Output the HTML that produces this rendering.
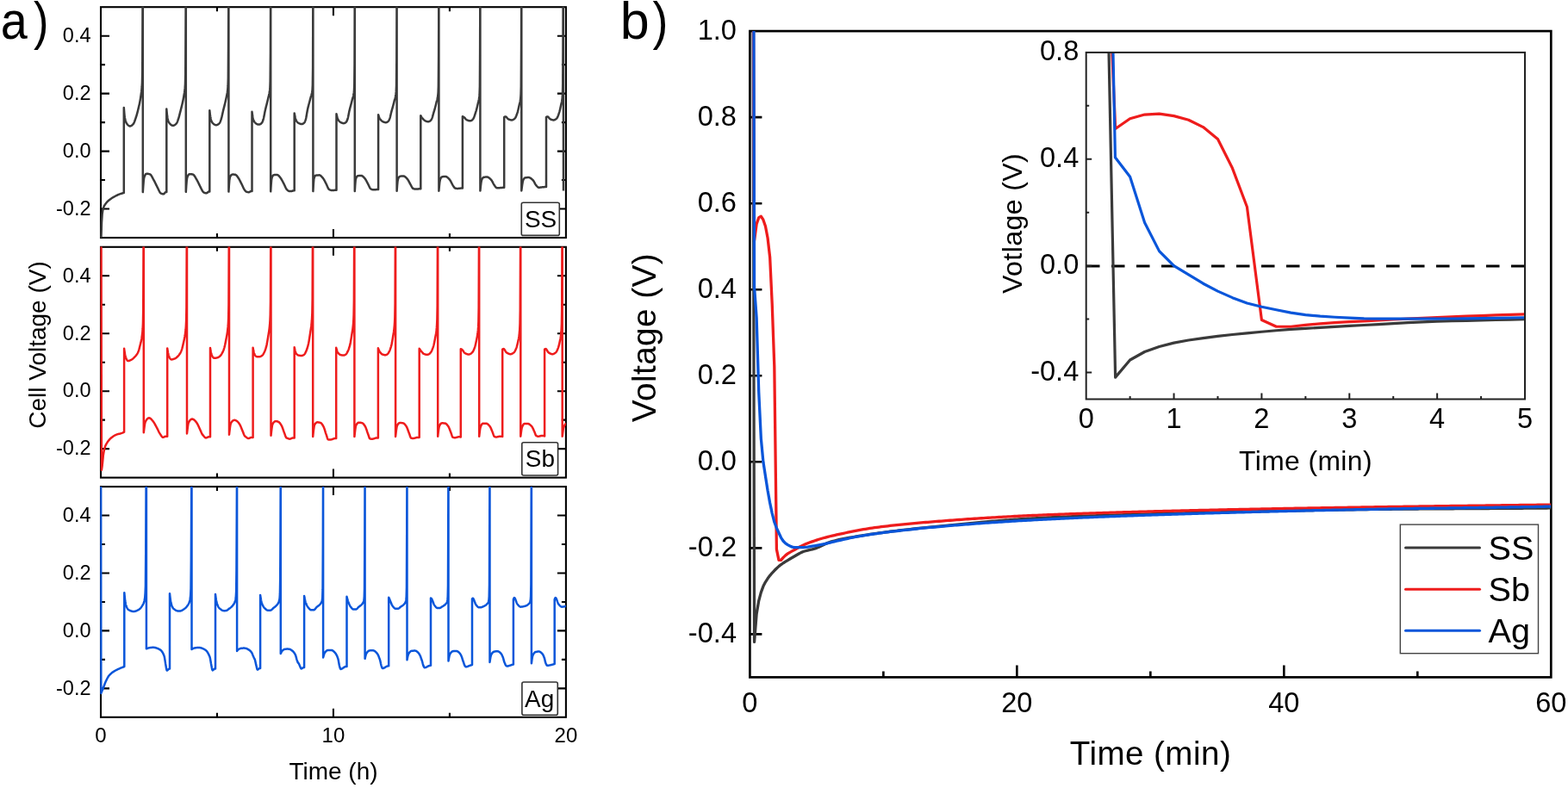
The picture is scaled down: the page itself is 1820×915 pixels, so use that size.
<!DOCTYPE html>
<html lang="en"><head><meta charset="utf-8"><title>Figure</title>
<style>
html,body{margin:0;padding:0;background:#fff;width:1820px;height:915px;overflow:hidden;}
svg{display:block;}
text{fill:#000;}
</style></head><body>
<svg width="1820" height="915" viewBox="0 0 1820 915">
<rect width="1820" height="915" fill="#fff"/>
<defs>
<clipPath id="ca0"><rect x="116.2" y="8" width="540.7" height="268"/></clipPath>
<clipPath id="ca1"><rect x="116.2" y="286.6" width="540.7" height="268"/></clipPath>
<clipPath id="ca2"><rect x="116.2" y="564.9" width="540.7" height="267.9"/></clipPath>
<clipPath id="cb"><rect x="870.4" y="36.1" width="930" height="750.3"/></clipPath>
<clipPath id="ci"><rect x="1260.7" y="60.9" width="509.3" height="402.6"/></clipPath>
</defs>
<text transform="translate(0.75 44.6) scale(0.915 1)" font-size="61" font-family='"Liberation Sans", Arial, sans-serif'>a</text>
<text transform="translate(38.9 44.6) scale(0.86 1)" font-size="61" font-family='"Liberation Sans", Arial, sans-serif'>)</text>
<g stroke="#000" stroke-width="2.1" fill="none">
<path d="M117 41.68h10 M656.9 41.68h-10 M117 108.62h10 M656.9 108.62h-10 M117 175.58h10 M656.9 175.58h-10 M117 242.53h10 M656.9 242.53h-10 M117 75.15h5 M656.9 75.15h-5 M117 142.1h5 M656.9 142.1h-5 M117 209.05h5 M656.9 209.05h-5 M386.95 8.2v10 M386.95 276v-10 M251.97 8.2v5 M251.97 276v-5 M521.92 8.2v5 M521.92 276v-5"/>
</g>
<rect x="117" y="8.2" width="539.9" height="267.8" fill="none" stroke="#000" stroke-width="2.1"/>
<path d="M117.3 280 L117.98 258.7 L118.66 248.5 L119.34 243.87 L120.02 241.35 L120.7 239.64 L121.38 238.35 L122.06 237.31 L122.74 236.39 L123.42 235.51 L124.09 234.72 L124.77 234.02 L125.45 233.37 L126.13 232.77 L126.81 232.21 L127.49 231.67 L128.17 231.17 L128.85 230.69 L129.53 230.23 L130.21 229.8 L130.89 229.38 L131.57 228.98 L132.25 228.6 L132.93 228.22 L133.61 227.85 L134.29 227.5 L134.97 227.15 L135.65 226.82 L136.33 226.5 L137.01 226.2 L137.68 225.91 L138.36 225.65 L139.04 225.4 L139.72 225.17 L140.4 224.94 L141.08 224.72 L141.76 224.52 L142.44 224.33 L143.12 224.16 L143.8 224 L143.8 125.03 L144.08 128.64 L144.35 132.01 L144.62 134.81 L144.9 136.74 L145.18 138.05 L145.45 139.21 L145.73 140.23 L146 141.11 L146.28 141.86 L146.55 142.5 L146.83 143.02 L147.1 143.44 L147.38 143.8 L147.65 144.15 L147.93 144.49 L148.2 144.8 L148.48 145.1 L148.75 145.37 L149.02 145.62 L149.3 145.84 L149.58 146.03 L149.85 146.19 L150.12 146.31 L150.4 146.4 L150.68 146.44 L150.95 146.45 L151.23 146.42 L151.5 146.36 L151.78 146.26 L152.05 146.14 L152.33 146 L152.6 145.83 L152.88 145.64 L153.15 145.43 L153.43 145.2 L153.7 144.96 L153.98 144.7 L154.25 144.44 L154.52 144.16 L154.8 143.85 L155.08 143.44 L155.35 142.94 L155.62 142.36 L155.9 141.71 L156.18 141 L156.45 140.26 L156.73 139.48 L157 138.68 L157.28 137.87 L157.55 137.06 L157.83 136.26 L158.1 135.42 L158.38 134.53 L158.65 133.61 L158.93 132.64 L159.2 131.64 L159.48 130.61 L159.75 129.54 L160.02 128.43 L160.3 127.3 L160.58 126.13 L160.85 124.97 L161.12 123.81 L161.4 122.63 L161.68 121.41 L161.95 120.14 L162.23 118.8 L162.5 117.36 L162.78 115.81 L163.05 114.13 L163.33 112.3 L163.6 110.3 L163.88 108.39 L164.15 106.5 L164.42 104.12 L164.7 100.72 L164.98 95.79 L165.25 81.74 L165.52 8.88 L165.8 -31.97 L165.8 223.11 L166.26 216.37 L166.72 210.45 L167.18 206.6 L167.63 205.16 L168.09 204.06 L168.55 203.16 L169.01 202.46 L169.47 201.98 L169.92 201.73 L170.38 201.69 L170.84 201.71 L171.3 201.75 L171.76 201.81 L172.22 201.89 L172.68 201.99 L173.13 202.1 L173.59 202.22 L174.05 202.36 L174.51 202.6 L174.97 203.02 L175.42 203.6 L175.88 204.3 L176.34 205.09 L176.8 205.94 L177.26 206.83 L177.72 207.71 L178.18 208.56 L178.63 209.37 L179.09 210.21 L179.55 211.09 L180.01 212.01 L180.47 212.95 L180.92 213.9 L181.38 214.85 L181.84 215.79 L182.3 216.7 L182.76 217.58 L183.22 218.46 L183.68 219.42 L184.13 220.41 L184.59 221.39 L185.05 222.31 L185.51 223.13 L185.97 223.8 L186.42 224.27 L186.88 224.53 L187.34 224.73 L187.8 224.91 L188.26 225.06 L188.72 225.17 L189.18 225.25 L189.63 225.28 L190.09 225.18 L190.55 224.82 L191.01 224.31 L191.47 223.77 L191.92 223.34 L192.38 223.12 L192.84 223.11 L193.3 223.11 L193.3 126.62 L193.58 129.7 L193.86 132.59 L194.14 135.04 L194.42 136.8 L194.71 138.06 L194.99 139.16 L195.27 140.09 L195.55 140.86 L195.83 141.53 L196.11 142.11 L196.39 142.59 L196.68 142.98 L196.96 143.33 L197.24 143.65 L197.52 143.96 L197.8 144.25 L198.08 144.52 L198.36 144.76 L198.64 144.98 L198.92 145.18 L199.21 145.36 L199.49 145.51 L199.77 145.63 L200.05 145.72 L200.33 145.78 L200.61 145.8 L200.89 145.8 L201.18 145.77 L201.46 145.71 L201.74 145.63 L202.02 145.52 L202.3 145.39 L202.58 145.24 L202.86 145.07 L203.14 144.87 L203.42 144.66 L203.71 144.43 L203.99 144.18 L204.27 143.93 L204.55 143.64 L204.83 143.27 L205.11 142.84 L205.39 142.33 L205.68 141.74 L205.96 141.07 L206.24 140.35 L206.52 139.58 L206.8 138.78 L207.08 137.93 L207.36 137.03 L207.64 136.07 L207.92 135.06 L208.21 133.99 L208.49 132.9 L208.77 131.78 L209.05 130.67 L209.33 129.57 L209.61 128.47 L209.89 127.36 L210.18 126.24 L210.46 125.11 L210.74 123.98 L211.02 122.85 L211.3 121.72 L211.58 120.55 L211.86 119.35 L212.14 118.08 L212.42 116.73 L212.71 115.3 L212.99 113.8 L213.27 112.22 L213.55 110.53 L213.83 108.89 L214.11 107.22 L214.39 105.11 L214.68 102.13 L214.96 97.86 L215.24 85.93 L215.52 26.3 L215.8 -31.97 L215.8 222.86 L216.26 215.78 L216.72 209.86 L217.18 206.52 L217.63 205.17 L218.09 204.16 L218.55 203.36 L219.01 202.78 L219.47 202.4 L219.92 202.19 L220.38 202.14 L220.84 202.15 L221.3 202.17 L221.76 202.21 L222.22 202.26 L222.68 202.33 L223.13 202.41 L223.59 202.52 L224.05 202.66 L224.51 202.91 L224.97 203.31 L225.42 203.85 L225.88 204.49 L226.34 205.21 L226.8 205.97 L227.26 206.76 L227.72 207.57 L228.18 208.38 L228.63 209.18 L229.09 210.01 L229.55 210.89 L230.01 211.8 L230.47 212.72 L230.92 213.65 L231.38 214.58 L231.84 215.52 L232.3 216.48 L232.76 217.41 L233.22 218.32 L233.68 219.26 L234.13 220.17 L234.59 221 L235.05 221.75 L235.51 222.43 L235.97 222.98 L236.42 223.39 L236.88 223.62 L237.34 223.8 L237.8 223.95 L238.26 224.07 L238.72 224.15 L239.18 224.2 L239.63 224.22 L240.09 224.12 L240.55 223.84 L241.01 223.44 L241.47 223.03 L241.92 222.69 L242.38 222.53 L242.84 222.52 L243.3 222.52 L243.3 128.21 L243.58 130.76 L243.85 133.17 L244.13 135.26 L244.4 136.86 L244.68 138.07 L244.96 139.1 L245.23 139.94 L245.51 140.62 L245.79 141.21 L246.06 141.72 L246.34 142.15 L246.62 142.52 L246.89 142.85 L247.17 143.15 L247.44 143.44 L247.72 143.7 L248 143.94 L248.27 144.15 L248.55 144.35 L248.82 144.52 L249.1 144.68 L249.38 144.82 L249.65 144.94 L249.93 145.04 L250.21 145.11 L250.48 145.16 L250.76 145.18 L251.04 145.18 L251.31 145.16 L251.59 145.12 L251.86 145.05 L252.14 144.96 L252.42 144.85 L252.69 144.7 L252.97 144.54 L253.24 144.35 L253.52 144.15 L253.8 143.93 L254.07 143.7 L254.35 143.43 L254.63 143.11 L254.9 142.74 L255.18 142.3 L255.46 141.77 L255.73 141.14 L256.01 140.44 L256.28 139.68 L256.56 138.88 L256.84 138 L257.11 136.99 L257.39 135.88 L257.66 134.7 L257.94 133.45 L258.22 132.18 L258.49 130.92 L258.77 129.69 L259.05 128.53 L259.32 127.41 L259.6 126.29 L259.88 125.18 L260.15 124.08 L260.43 122.98 L260.7 121.9 L260.98 120.81 L261.26 119.7 L261.53 118.55 L261.81 117.36 L262.08 116.11 L262.36 114.79 L262.64 113.47 L262.91 112.15 L263.19 110.77 L263.47 109.4 L263.74 107.94 L264.02 106.09 L264.29 103.53 L264.57 99.93 L264.85 90.11 L265.12 43.71 L265.4 -31.97 L265.4 222.61 L265.85 215.19 L266.3 209.27 L266.76 206.43 L267.21 205.19 L267.66 204.26 L268.11 203.56 L268.56 203.09 L269.01 202.81 L269.46 202.65 L269.92 202.6 L270.37 202.59 L270.82 202.59 L271.27 202.6 L271.72 202.63 L272.17 202.68 L272.63 202.73 L273.08 202.81 L273.53 202.96 L273.98 203.22 L274.43 203.61 L274.88 204.1 L275.34 204.69 L275.79 205.33 L276.24 206.01 L276.69 206.7 L277.14 207.44 L277.59 208.21 L278.05 208.99 L278.5 209.81 L278.95 210.68 L279.4 211.58 L279.85 212.49 L280.3 213.4 L280.76 214.3 L281.21 215.26 L281.66 216.25 L282.11 217.23 L282.56 218.18 L283.02 219.1 L283.47 219.92 L283.92 220.6 L284.37 221.19 L284.82 221.72 L285.27 222.17 L285.73 222.5 L286.18 222.7 L286.63 222.86 L287.08 222.99 L287.53 223.08 L287.98 223.13 L288.44 223.16 L288.89 223.15 L289.34 223.07 L289.79 222.86 L290.24 222.57 L290.69 222.29 L291.14 222.05 L291.6 221.94 L292.05 221.94 L292.5 221.94 L292.5 129.8 L292.77 131.82 L293.04 133.75 L293.31 135.49 L293.58 136.92 L293.86 138.08 L294.13 139.05 L294.4 139.8 L294.67 140.37 L294.94 140.88 L295.21 141.33 L295.48 141.72 L295.76 142.06 L296.03 142.37 L296.3 142.65 L296.57 142.91 L296.84 143.14 L297.11 143.36 L297.38 143.55 L297.65 143.71 L297.92 143.87 L298.2 144.01 L298.47 144.14 L298.74 144.26 L299.01 144.36 L299.28 144.45 L299.55 144.52 L299.82 144.57 L300.09 144.6 L300.37 144.61 L300.64 144.61 L300.91 144.58 L301.18 144.53 L301.45 144.45 L301.72 144.34 L301.99 144.21 L302.26 144.05 L302.54 143.87 L302.81 143.68 L303.08 143.46 L303.35 143.22 L303.62 142.95 L303.89 142.64 L304.16 142.28 L304.44 141.8 L304.71 141.21 L304.98 140.53 L305.25 139.78 L305.52 138.99 L305.79 138.06 L306.06 136.95 L306.33 135.7 L306.6 134.34 L306.88 132.91 L307.15 131.47 L307.42 130.06 L307.69 128.72 L307.96 127.5 L308.23 126.35 L308.5 125.23 L308.77 124.13 L309.05 123.05 L309.32 121.99 L309.59 120.94 L309.86 119.9 L310.13 118.84 L310.4 117.76 L310.67 116.64 L310.94 115.48 L311.22 114.27 L311.49 113.14 L311.76 112.08 L312.03 111.01 L312.3 109.9 L312.57 108.66 L312.84 107.08 L313.12 104.94 L313.39 102 L313.66 94.3 L313.93 61.12 L314.2 -31.97 L314.2 222.36 L314.66 214.6 L315.12 208.68 L315.58 206.35 L316.03 205.21 L316.49 204.36 L316.95 203.76 L317.41 203.4 L317.87 203.22 L318.32 203.11 L318.78 203.06 L319.24 203.03 L319.7 203.01 L320.16 203 L320.62 203.01 L321.08 203.02 L321.53 203.04 L321.99 203.11 L322.45 203.26 L322.91 203.53 L323.37 203.9 L323.82 204.36 L324.28 204.88 L324.74 205.45 L325.2 206.04 L325.66 206.64 L326.12 207.3 L326.58 208.03 L327.03 208.8 L327.49 209.62 L327.95 210.48 L328.41 211.36 L328.87 212.26 L329.32 213.15 L329.78 214.03 L330.24 214.99 L330.7 216.02 L331.16 217.05 L331.62 218.03 L332.08 218.93 L332.53 219.68 L332.99 220.21 L333.45 220.64 L333.91 221.02 L334.37 221.35 L334.82 221.61 L335.28 221.79 L335.74 221.93 L336.2 222.03 L336.66 222.09 L337.12 222.11 L337.58 222.11 L338.03 222.08 L338.49 222.01 L338.95 221.88 L339.41 221.71 L339.87 221.54 L340.32 221.41 L340.78 221.35 L341.24 221.35 L341.7 221.35 L341.7 131.39 L341.97 132.88 L342.24 134.33 L342.51 135.71 L342.78 136.98 L343.06 138.08 L343.33 138.99 L343.6 139.66 L343.87 140.12 L344.14 140.55 L344.41 140.93 L344.68 141.29 L344.96 141.61 L345.23 141.89 L345.5 142.15 L345.77 142.39 L346.04 142.59 L346.31 142.78 L346.58 142.94 L346.85 143.08 L347.12 143.21 L347.4 143.33 L347.67 143.45 L347.94 143.57 L348.21 143.68 L348.48 143.78 L348.75 143.87 L349.02 143.95 L349.29 144.01 L349.57 144.06 L349.84 144.09 L350.11 144.11 L350.38 144.1 L350.65 144.05 L350.92 143.98 L351.19 143.88 L351.46 143.75 L351.74 143.6 L352.01 143.42 L352.28 143.23 L352.55 143.01 L352.82 142.78 L353.09 142.54 L353.36 142.25 L353.64 141.83 L353.91 141.28 L354.18 140.62 L354.45 139.88 L354.72 139.09 L354.99 138.13 L355.26 136.91 L355.53 135.51 L355.8 133.97 L356.08 132.37 L356.35 130.76 L356.62 129.19 L356.89 127.74 L357.16 126.46 L357.43 125.28 L357.7 124.16 L357.98 123.07 L358.25 122.02 L358.52 121 L358.79 119.99 L359.06 118.99 L359.33 117.98 L359.6 116.96 L359.87 115.93 L360.14 114.86 L360.42 113.76 L360.69 112.81 L360.96 112.01 L361.23 111.24 L361.5 110.4 L361.77 109.38 L362.04 108.07 L362.32 106.35 L362.59 104.07 L362.86 98.48 L363.13 78.53 L363.4 -31.97 L363.4 222.11 L363.85 214.01 L364.3 208.09 L364.76 206.27 L365.21 205.22 L365.66 204.46 L366.11 203.96 L366.56 203.71 L367.01 203.63 L367.46 203.57 L367.92 203.51 L368.37 203.47 L368.82 203.43 L369.27 203.4 L369.72 203.38 L370.17 203.36 L370.63 203.36 L371.08 203.4 L371.53 203.57 L371.98 203.84 L372.43 204.19 L372.88 204.61 L373.34 205.08 L373.79 205.57 L374.24 206.07 L374.69 206.58 L375.14 207.17 L375.6 207.85 L376.05 208.6 L376.5 209.42 L376.95 210.27 L377.4 211.15 L377.85 212.03 L378.3 212.9 L378.76 213.75 L379.21 214.72 L379.66 215.79 L380.11 216.87 L380.56 217.89 L381.02 218.77 L381.47 219.44 L381.92 219.82 L382.37 220.08 L382.82 220.32 L383.27 220.53 L383.72 220.72 L384.18 220.87 L384.63 220.99 L385.08 221.07 L385.53 221.1 L385.98 221.09 L386.44 221.06 L386.89 221.01 L387.34 220.96 L387.79 220.9 L388.24 220.84 L388.69 220.8 L389.14 220.77 L389.6 220.77 L390.05 220.77 L390.5 220.77 L390.5 132.33 L390.77 133.48 L391.03 134.61 L391.3 135.69 L391.56 136.68 L391.83 137.55 L392.1 138.27 L392.36 138.82 L392.63 139.22 L392.9 139.59 L393.16 139.94 L393.43 140.28 L393.7 140.59 L393.96 140.87 L394.23 141.14 L394.49 141.38 L394.76 141.6 L395.03 141.8 L395.29 141.97 L395.56 142.12 L395.82 142.25 L396.09 142.37 L396.36 142.49 L396.62 142.6 L396.89 142.71 L397.16 142.8 L397.42 142.89 L397.69 142.97 L397.96 143.04 L398.22 143.09 L398.49 143.13 L398.75 143.15 L399.02 143.15 L399.29 143.12 L399.55 143.07 L399.82 142.99 L400.08 142.88 L400.35 142.75 L400.62 142.6 L400.88 142.43 L401.15 142.24 L401.42 142.03 L401.68 141.81 L401.95 141.55 L402.22 141.18 L402.48 140.7 L402.75 140.13 L403.01 139.5 L403.28 138.82 L403.55 138.01 L403.81 136.99 L404.08 135.81 L404.34 134.5 L404.61 133.13 L404.88 131.73 L405.14 130.37 L405.41 129.08 L405.68 127.92 L405.94 126.84 L406.21 125.8 L406.48 124.79 L406.74 123.8 L407.01 122.82 L407.27 121.83 L407.54 120.84 L407.81 119.83 L408.07 118.8 L408.34 117.75 L408.6 116.67 L408.87 115.55 L409.14 114.56 L409.4 113.72 L409.67 112.91 L409.94 112.03 L410.2 110.96 L410.47 109.56 L410.74 107.74 L411 105.11 L411.27 98.91 L411.53 73.83 L411.8 -31.97 L411.8 221.97 L412.26 214.7 L412.71 209.26 L413.16 207.23 L413.62 206.03 L414.08 205.23 L414.53 204.68 L414.98 204.37 L415.44 204.22 L415.9 204.13 L416.35 204.07 L416.8 204.02 L417.26 203.98 L417.72 203.94 L418.17 203.92 L418.62 203.9 L419.08 203.9 L419.54 203.93 L419.99 204.06 L420.44 204.3 L420.9 204.61 L421.36 205 L421.81 205.43 L422.26 205.89 L422.72 206.37 L423.18 206.85 L423.63 207.4 L424.08 208.04 L424.54 208.73 L425 209.51 L425.45 210.35 L425.9 211.22 L426.36 212.11 L426.82 212.98 L427.27 213.83 L427.72 214.75 L428.18 215.71 L428.64 216.69 L429.09 217.61 L429.54 218.41 L430 219.03 L430.46 219.38 L430.91 219.61 L431.36 219.8 L431.82 219.97 L432.28 220.1 L432.73 220.21 L433.18 220.29 L433.64 220.34 L434.1 220.36 L434.55 220.35 L435 220.31 L435.46 220.26 L435.92 220.21 L436.37 220.15 L436.83 220.1 L437.28 220.06 L437.74 220.04 L438.19 220.03 L438.65 220.03 L439.1 220.03 L439.1 133.26 L439.37 134.08 L439.64 134.88 L439.91 135.66 L440.18 136.37 L440.44 137.02 L440.71 137.56 L440.98 137.98 L441.25 138.31 L441.52 138.64 L441.79 138.95 L442.06 139.26 L442.33 139.56 L442.59 139.85 L442.86 140.12 L443.13 140.38 L443.4 140.61 L443.67 140.82 L443.94 141.01 L444.21 141.16 L444.48 141.29 L444.74 141.41 L445.01 141.52 L445.28 141.63 L445.55 141.73 L445.82 141.83 L446.09 141.92 L446.36 142 L446.62 142.06 L446.89 142.12 L447.16 142.16 L447.43 142.19 L447.7 142.2 L447.97 142.19 L448.24 142.15 L448.51 142.1 L448.78 142.02 L449.04 141.91 L449.31 141.78 L449.58 141.63 L449.85 141.47 L450.12 141.28 L450.39 141.08 L450.66 140.85 L450.92 140.52 L451.19 140.12 L451.46 139.65 L451.73 139.12 L452 138.56 L452.27 137.9 L452.54 137.07 L452.81 136.11 L453.08 135.03 L453.34 133.89 L453.61 132.71 L453.88 131.54 L454.15 130.42 L454.42 129.39 L454.69 128.41 L454.96 127.44 L455.22 126.5 L455.49 125.58 L455.76 124.64 L456.03 123.68 L456.3 122.69 L456.57 121.68 L456.84 120.64 L457.11 119.57 L457.38 118.47 L457.64 117.35 L457.91 116.31 L458.18 115.43 L458.45 114.59 L458.72 113.66 L458.99 112.53 L459.26 111.06 L459.52 109.13 L459.79 106.16 L460.06 99.33 L460.33 69.13 L460.6 -31.97 L460.6 221.84 L461.06 215.39 L461.52 210.42 L461.98 208.2 L462.45 206.84 L462.91 206.01 L463.37 205.4 L463.83 205.02 L464.29 204.81 L464.76 204.69 L465.22 204.63 L465.68 204.57 L466.14 204.53 L466.6 204.49 L467.06 204.46 L467.52 204.44 L467.99 204.43 L468.45 204.46 L468.91 204.56 L469.37 204.76 L469.83 205.04 L470.3 205.38 L470.76 205.78 L471.22 206.21 L471.68 206.66 L472.14 207.12 L472.6 207.64 L473.06 208.22 L473.53 208.86 L473.99 209.6 L474.45 210.42 L474.91 211.3 L475.37 212.19 L475.84 213.07 L476.3 213.91 L476.76 214.77 L477.22 215.63 L477.68 216.5 L478.14 217.33 L478.6 218.06 L479.07 218.62 L479.53 218.95 L479.99 219.15 L480.45 219.29 L480.91 219.4 L481.38 219.49 L481.84 219.55 L482.3 219.6 L482.76 219.62 L483.22 219.62 L483.68 219.6 L484.15 219.56 L484.61 219.51 L485.07 219.46 L485.53 219.41 L485.99 219.36 L486.45 219.32 L486.92 219.3 L487.38 219.29 L487.84 219.29 L488.3 219.29 L488.3 134.2 L488.56 134.68 L488.83 135.16 L489.09 135.63 L489.36 136.07 L489.62 136.48 L489.88 136.84 L490.15 137.15 L490.41 137.41 L490.67 137.68 L490.94 137.96 L491.2 138.25 L491.46 138.54 L491.73 138.83 L491.99 139.11 L492.26 139.37 L492.52 139.62 L492.78 139.84 L493.05 140.04 L493.31 140.2 L493.58 140.33 L493.84 140.44 L494.1 140.55 L494.37 140.66 L494.63 140.76 L494.89 140.85 L495.16 140.94 L495.42 141.02 L495.68 141.09 L495.95 141.15 L496.21 141.2 L496.48 141.23 L496.74 141.26 L497 141.26 L497.27 141.24 L497.53 141.2 L497.8 141.15 L498.06 141.07 L498.32 140.96 L498.59 140.84 L498.85 140.69 L499.11 140.53 L499.38 140.35 L499.64 140.14 L499.9 139.87 L500.17 139.54 L500.43 139.16 L500.7 138.75 L500.96 138.3 L501.22 137.78 L501.49 137.15 L501.75 136.41 L502.02 135.56 L502.28 134.65 L502.54 133.69 L502.81 132.72 L503.07 131.76 L503.33 130.85 L503.6 129.97 L503.86 129.09 L504.12 128.22 L504.39 127.35 L504.65 126.46 L504.92 125.52 L505.18 124.54 L505.44 123.53 L505.71 122.48 L505.97 121.39 L506.24 120.28 L506.5 119.14 L506.76 118.06 L507.03 117.14 L507.29 116.26 L507.55 115.29 L507.82 114.11 L508.08 112.56 L508.34 110.53 L508.61 107.2 L508.87 99.76 L509.14 64.44 L509.4 -31.97 L509.4 221.7 L509.86 216.09 L510.32 211.59 L510.78 209.16 L511.23 207.65 L511.69 206.78 L512.15 206.12 L512.61 205.67 L513.07 205.39 L513.52 205.25 L513.98 205.18 L514.44 205.12 L514.9 205.08 L515.36 205.04 L515.82 205.01 L516.28 204.98 L516.73 204.97 L517.19 204.98 L517.65 205.06 L518.11 205.22 L518.57 205.46 L519.02 205.77 L519.48 206.13 L519.94 206.52 L520.4 206.95 L520.86 207.39 L521.32 207.88 L521.78 208.41 L522.23 208.99 L522.69 209.69 L523.15 210.49 L523.61 211.37 L524.07 212.27 L524.52 213.16 L524.98 213.99 L525.44 214.8 L525.9 215.56 L526.36 216.32 L526.82 217.06 L527.28 217.7 L527.73 218.21 L528.19 218.52 L528.65 218.68 L529.11 218.77 L529.57 218.83 L530.02 218.87 L530.48 218.89 L530.94 218.9 L531.4 218.9 L531.86 218.88 L532.32 218.85 L532.78 218.81 L533.23 218.76 L533.69 218.71 L534.15 218.67 L534.61 218.62 L535.07 218.59 L535.52 218.56 L535.98 218.56 L536.44 218.56 L536.9 218.56 L536.9 135.14 L537.16 135.28 L537.41 135.43 L537.67 135.6 L537.92 135.77 L538.18 135.95 L538.44 136.13 L538.69 136.31 L538.95 136.5 L539.21 136.72 L539.46 136.97 L539.72 137.24 L539.98 137.52 L540.23 137.81 L540.49 138.09 L540.74 138.37 L541 138.63 L541.26 138.87 L541.51 139.08 L541.77 139.25 L542.02 139.38 L542.28 139.48 L542.54 139.58 L542.79 139.69 L543.05 139.78 L543.31 139.88 L543.56 139.96 L543.82 140.04 L544.07 140.12 L544.33 140.18 L544.59 140.23 L544.84 140.28 L545.1 140.31 L545.36 140.32 L545.61 140.33 L545.87 140.31 L546.12 140.28 L546.38 140.22 L546.64 140.14 L546.89 140.04 L547.15 139.92 L547.41 139.78 L547.66 139.62 L547.92 139.44 L548.17 139.22 L548.43 138.96 L548.69 138.68 L548.94 138.37 L549.2 138.04 L549.46 137.67 L549.71 137.23 L549.97 136.71 L550.22 136.09 L550.48 135.41 L550.74 134.67 L550.99 133.89 L551.25 133.11 L551.51 132.32 L551.76 131.53 L552.02 130.73 L552.28 129.93 L552.53 129.13 L552.79 128.28 L553.04 127.37 L553.3 126.4 L553.56 125.38 L553.81 124.32 L554.07 123.21 L554.32 122.08 L554.58 120.93 L554.84 119.81 L555.09 118.85 L555.35 117.93 L555.61 116.92 L555.86 115.68 L556.12 114.06 L556.38 111.92 L556.63 108.25 L556.89 100.18 L557.14 59.74 L557.4 -31.97 L557.4 221.57 L557.86 216.78 L558.33 212.76 L558.79 210.13 L559.25 208.46 L559.72 207.56 L560.18 206.85 L560.64 206.32 L561.11 205.98 L561.57 205.81 L562.03 205.74 L562.5 205.68 L562.96 205.63 L563.42 205.58 L563.89 205.55 L564.35 205.52 L564.81 205.51 L565.28 205.51 L565.74 205.56 L566.2 205.68 L566.67 205.89 L567.13 206.15 L567.59 206.48 L568.06 206.84 L568.52 207.24 L568.98 207.66 L569.45 208.12 L569.91 208.6 L570.37 209.11 L570.84 209.78 L571.3 210.57 L571.76 211.44 L572.23 212.35 L572.69 213.24 L573.15 214.07 L573.62 214.82 L574.08 215.48 L574.54 216.14 L575.01 216.78 L575.47 217.35 L575.93 217.8 L576.4 218.09 L576.86 218.22 L577.32 218.25 L577.79 218.26 L578.25 218.26 L578.71 218.23 L579.18 218.2 L579.64 218.17 L580.1 218.14 L580.57 218.1 L581.03 218.06 L581.49 218.01 L581.96 217.97 L582.42 217.92 L582.88 217.88 L583.35 217.85 L583.81 217.83 L584.27 217.82 L584.74 217.82 L585.2 217.82 L585.2 136.07 L585.45 135.88 L585.7 135.7 L585.95 135.57 L586.21 135.47 L586.46 135.41 L586.71 135.41 L586.96 135.47 L587.21 135.59 L587.46 135.77 L587.71 135.98 L587.96 136.23 L588.22 136.5 L588.47 136.79 L588.72 137.08 L588.97 137.37 L589.22 137.64 L589.47 137.89 L589.72 138.11 L589.97 138.29 L590.22 138.42 L590.48 138.52 L590.73 138.62 L590.98 138.71 L591.23 138.81 L591.48 138.9 L591.73 138.99 L591.98 139.07 L592.24 139.14 L592.49 139.21 L592.74 139.27 L592.99 139.32 L593.24 139.36 L593.49 139.39 L593.74 139.41 L593.99 139.42 L594.24 139.41 L594.5 139.38 L594.75 139.32 L595 139.25 L595.25 139.15 L595.5 139.03 L595.75 138.89 L596 138.74 L596.26 138.57 L596.51 138.39 L596.76 138.19 L597.01 137.99 L597.26 137.77 L597.51 137.55 L597.76 137.31 L598.01 137.01 L598.26 136.62 L598.52 136.16 L598.77 135.64 L599.02 135.07 L599.27 134.45 L599.52 133.78 L599.77 133.09 L600.02 132.38 L600.28 131.64 L600.53 130.9 L600.78 130.1 L601.03 129.21 L601.28 128.25 L601.53 127.23 L601.78 126.15 L602.03 125.04 L602.28 123.89 L602.54 122.72 L602.79 121.56 L603.04 120.56 L603.29 119.6 L603.54 118.55 L603.79 117.26 L604.04 115.56 L604.29 113.31 L604.55 109.29 L604.8 100.61 L605.05 55.04 L605.3 -31.97 L605.3 221.44 L605.78 217.48 L606.26 213.93 L606.73 211.09 L607.21 209.27 L607.69 208.33 L608.17 207.57 L608.65 206.97 L609.13 206.57 L609.6 206.37 L610.08 206.3 L610.56 206.23 L611.04 206.17 L611.52 206.13 L612 206.09 L612.47 206.06 L612.95 206.05 L613.43 206.04 L613.91 206.05 L614.39 206.14 L614.87 206.31 L615.34 206.54 L615.82 206.83 L616.3 207.16 L616.78 207.53 L617.26 207.93 L617.74 208.35 L618.21 208.79 L618.69 209.24 L619.17 209.86 L619.65 210.64 L620.13 211.52 L620.61 212.43 L621.08 213.33 L621.56 214.16 L622.04 214.85 L622.52 215.4 L623 215.96 L623.48 216.5 L623.95 216.99 L624.43 217.39 L624.91 217.66 L625.39 217.75 L625.87 217.74 L626.35 217.7 L626.83 217.64 L627.3 217.57 L627.78 217.51 L628.26 217.45 L628.74 217.4 L629.22 217.36 L629.69 217.31 L630.17 217.26 L630.65 217.22 L631.13 217.18 L631.61 217.14 L632.09 217.11 L632.57 217.09 L633.04 217.08 L633.52 217.08 L634 217.08 L634 136.07 L634.25 135.88 L634.49 135.7 L634.74 135.57 L634.98 135.47 L635.23 135.41 L635.48 135.41 L635.72 135.47 L635.97 135.59 L636.22 135.77 L636.46 135.98 L636.71 136.23 L636.96 136.5 L637.2 136.79 L637.45 137.08 L637.69 137.37 L637.94 137.64 L638.19 137.89 L638.43 138.11 L638.68 138.29 L638.92 138.42 L639.17 138.52 L639.42 138.62 L639.66 138.71 L639.91 138.81 L640.16 138.9 L640.4 138.99 L640.65 139.07 L640.9 139.14 L641.14 139.21 L641.39 139.27 L641.63 139.32 L641.88 139.36 L642.13 139.39 L642.37 139.41 L642.62 139.42 L642.86 139.41 L643.11 139.38 L643.36 139.32 L643.6 139.25 L643.85 139.15 L644.1 139.03 L644.34 138.89 L644.59 138.74 L644.84 138.57 L645.08 138.39 L645.33 138.19 L645.57 137.99 L645.82 137.77 L646.07 137.55 L646.31 137.31 L646.56 137.01 L646.81 136.62 L647.05 136.16 L647.3 135.64 L647.54 135.07 L647.79 134.45 L648.04 133.78 L648.28 133.09 L648.53 132.38 L648.78 131.64 L649.02 130.9 L649.27 130.1 L649.51 129.21 L649.76 128.25 L650.01 127.23 L650.25 126.15 L650.5 125.04 L650.74 123.89 L650.99 122.72 L651.24 121.56 L651.48 120.56 L651.73 119.6 L651.98 118.55 L652.22 117.26 L652.47 115.56 L652.72 113.31 L652.96 109.29 L653.21 100.61 L653.45 55.04 L653.7 -31.97 L654 221.44" fill="none" stroke="#3a3a3a" stroke-width="2.5" stroke-linejoin="round" clip-path="url(#ca0)"/>
<text x="105.5" y="48.98" font-size="23.5" text-anchor="end" font-family='"Liberation Sans", Arial, sans-serif'>0.4</text>
<text x="105.5" y="115.92" font-size="23.5" text-anchor="end" font-family='"Liberation Sans", Arial, sans-serif'>0.2</text>
<text x="105.5" y="182.88" font-size="23.5" text-anchor="end" font-family='"Liberation Sans", Arial, sans-serif'>0.0</text>
<text x="105.5" y="249.83" font-size="23.5" text-anchor="end" font-family='"Liberation Sans", Arial, sans-serif'>-0.2</text>
<rect x="605.3" y="235.2" width="44" height="38.2" rx="2" fill="#fff" stroke="#333" stroke-width="1.6"/>
<text x="627.6" y="263.8" font-size="27.9" text-anchor="middle" font-family='"Liberation Sans", Arial, sans-serif'>SS</text>
<g stroke="#000" stroke-width="2.1" fill="none">
<path d="M117 320.28h10 M656.9 320.28h-10 M117 387.23h10 M656.9 387.23h-10 M117 454.18h10 M656.9 454.18h-10 M117 521.12h10 M656.9 521.12h-10 M117 353.75h5 M656.9 353.75h-5 M117 420.7h5 M656.9 420.7h-5 M117 487.65h5 M656.9 487.65h-5 M386.95 286.8v10 M386.95 554.6v-10 M251.97 286.8v5 M251.97 554.6v-5 M521.92 286.8v5 M521.92 554.6v-5"/>
</g>
<rect x="117" y="286.8" width="539.9" height="267.8" fill="none" stroke="#000" stroke-width="2.1"/>
<path d="M117.5 281.8 L117.9 545.8 L118.57 541.56 L119.24 535.13 L119.92 528.19 L120.59 524.12 L121.26 521.03 L121.93 518.83 L122.6 517.14 L123.27 515.76 L123.95 514.59 L124.62 513.56 L125.29 512.61 L125.96 511.72 L126.63 510.88 L127.31 510.12 L127.98 509.41 L128.65 508.77 L129.32 508.2 L129.99 507.68 L130.66 507.19 L131.34 506.73 L132.01 506.29 L132.68 505.88 L133.35 505.5 L134.02 505.15 L134.69 504.84 L135.37 504.56 L136.04 504.32 L136.71 504.13 L137.38 503.97 L138.05 503.84 L138.73 503.7 L139.4 503.53 L140.07 503.33 L140.74 503.1 L141.41 502.86 L142.08 502.6 L142.76 502.31 L143.43 502.02 L144.1 501.7 L144.1 404.77 L144.38 406.82 L144.67 408.8 L144.95 410.62 L145.23 412.2 L145.52 413.45 L145.8 414.32 L146.09 415.09 L146.37 415.82 L146.65 416.5 L146.94 417.12 L147.22 417.67 L147.5 418.14 L147.79 418.53 L148.07 418.82 L148.36 419 L148.64 419.06 L148.92 419.05 L149.21 419.01 L149.49 418.96 L149.78 418.89 L150.06 418.8 L150.34 418.7 L150.63 418.59 L150.91 418.47 L151.19 418.34 L151.48 418.2 L151.76 418.06 L152.04 417.92 L152.33 417.77 L152.61 417.63 L152.9 417.47 L153.18 417.29 L153.46 417.1 L153.75 416.88 L154.03 416.66 L154.32 416.42 L154.6 416.17 L154.88 415.91 L155.17 415.64 L155.45 415.36 L155.73 415.08 L156.02 414.79 L156.3 414.5 L156.58 414.21 L156.87 413.91 L157.15 413.6 L157.44 413.28 L157.72 412.95 L158 412.6 L158.29 412.23 L158.57 411.84 L158.86 411.43 L159.14 410.99 L159.42 410.52 L159.71 410.02 L159.99 409.49 L160.27 408.88 L160.56 408.17 L160.84 407.38 L161.12 406.51 L161.41 405.56 L161.69 404.56 L161.98 403.51 L162.26 402.42 L162.54 401.3 L162.83 400.16 L163.11 399.05 L163.4 397.93 L163.68 396.74 L163.96 395.43 L164.25 393.95 L164.53 392.24 L164.81 390.25 L165.1 387.96 L165.38 385.3 L165.67 381.46 L165.95 375.49 L166.23 360.01 L166.52 288.66 L166.8 246.63 L166.8 502.28 L167.26 498.47 L167.71 494.85 L168.17 491.87 L168.63 489.97 L169.08 489.07 L169.54 488.29 L170 487.6 L170.45 486.99 L170.91 486.47 L171.37 486.04 L171.82 485.71 L172.28 485.47 L172.74 485.34 L173.19 485.31 L173.65 485.4 L174.11 485.6 L174.56 485.9 L175.02 486.28 L175.48 486.72 L175.93 487.21 L176.39 487.72 L176.85 488.25 L177.3 488.78 L177.76 489.31 L178.22 489.92 L178.67 490.6 L179.13 491.35 L179.59 492.14 L180.04 492.97 L180.5 493.81 L180.96 494.67 L181.41 495.52 L181.87 496.35 L182.33 497.21 L182.78 498.12 L183.24 499.06 L183.7 500.01 L184.15 500.95 L184.61 501.85 L185.07 502.69 L185.52 503.44 L185.98 504.13 L186.44 504.84 L186.89 505.56 L187.35 506.24 L187.81 506.86 L188.26 507.36 L188.72 507.71 L189.18 507.86 L189.63 507.82 L190.09 507.66 L190.55 507.43 L191 507.17 L191.46 506.94 L191.92 506.78 L192.37 506.73 L192.83 506.73 L193.29 506.73 L193.74 506.73 L194.2 506.73 L194.2 404.4 L194.48 406.25 L194.77 408.05 L195.05 409.71 L195.34 411.16 L195.62 412.33 L195.91 413.17 L196.2 413.88 L196.48 414.51 L196.76 415.1 L197.05 415.63 L197.33 416.11 L197.62 416.53 L197.9 416.87 L198.19 417.13 L198.48 417.31 L198.76 417.39 L199.04 417.41 L199.33 417.41 L199.61 417.39 L199.9 417.34 L200.18 417.29 L200.47 417.23 L200.76 417.15 L201.04 417.07 L201.32 416.98 L201.61 416.88 L201.9 416.78 L202.18 416.68 L202.46 416.58 L202.75 416.47 L203.04 416.35 L203.32 416.22 L203.6 416.06 L203.89 415.89 L204.18 415.7 L204.46 415.49 L204.74 415.27 L205.03 415.04 L205.32 414.8 L205.6 414.55 L205.88 414.29 L206.17 414.03 L206.46 413.76 L206.74 413.46 L207.02 413.14 L207.31 412.8 L207.6 412.44 L207.88 412.05 L208.16 411.65 L208.45 411.23 L208.74 410.79 L209.02 410.32 L209.3 409.81 L209.59 409.28 L209.88 408.7 L210.16 408.09 L210.44 407.41 L210.73 406.64 L211.02 405.79 L211.3 404.87 L211.58 403.86 L211.87 402.77 L212.16 401.61 L212.44 400.39 L212.72 399.13 L213.01 397.85 L213.3 396.57 L213.58 395.28 L213.86 393.94 L214.15 392.54 L214.44 391.03 L214.72 389.31 L215 387.31 L215.29 384.97 L215.58 382.22 L215.86 378.36 L216.14 372.29 L216.43 356.75 L216.72 286.93 L217 246.63 L217 503.48 L217.45 499.54 L217.9 495.82 L218.35 492.77 L218.8 490.86 L219.25 489.99 L219.7 489.24 L220.15 488.57 L220.6 488 L221.05 487.52 L221.5 487.14 L221.95 486.87 L222.4 486.69 L222.85 486.59 L223.3 486.58 L223.75 486.66 L224.2 486.84 L224.65 487.09 L225.1 487.4 L225.55 487.76 L226 488.16 L226.45 488.61 L226.9 489.11 L227.35 489.64 L227.8 490.19 L228.25 490.82 L228.7 491.51 L229.15 492.26 L229.6 493.09 L230.05 494 L230.5 494.98 L230.95 495.98 L231.4 496.99 L231.85 497.97 L232.3 498.94 L232.75 499.95 L233.2 501.02 L233.65 502.1 L234.1 503.1 L234.55 503.96 L235 504.62 L235.45 505.19 L235.9 505.7 L236.35 506.23 L236.8 506.77 L237.25 507.29 L237.7 507.75 L238.15 508.12 L238.6 508.36 L239.05 508.45 L239.5 508.38 L239.95 508.21 L240.4 507.99 L240.85 507.75 L241.3 507.54 L241.75 507.38 L242.2 507.32 L242.65 507.32 L243.1 507.32 L243.55 507.32 L244 507.32 L244 404.03 L244.28 405.69 L244.55 407.3 L244.82 408.8 L245.1 410.13 L245.38 411.21 L245.65 412.02 L245.92 412.67 L246.2 413.2 L246.48 413.7 L246.75 414.15 L247.02 414.56 L247.3 414.92 L247.58 415.21 L247.85 415.45 L248.12 415.62 L248.4 415.72 L248.68 415.77 L248.95 415.8 L249.22 415.81 L249.5 415.8 L249.78 415.78 L250.05 415.75 L250.32 415.71 L250.6 415.67 L250.88 415.62 L251.15 415.56 L251.42 415.51 L251.7 415.44 L251.98 415.38 L252.25 415.31 L252.52 415.23 L252.8 415.14 L253.08 415.03 L253.35 414.89 L253.62 414.73 L253.9 414.56 L254.18 414.37 L254.45 414.17 L254.72 413.96 L255 413.74 L255.28 413.5 L255.55 413.27 L255.82 413.01 L256.1 412.72 L256.38 412.38 L256.65 412 L256.92 411.59 L257.2 411.16 L257.48 410.7 L257.75 410.22 L258.02 409.73 L258.3 409.2 L258.58 408.64 L258.85 408.03 L259.12 407.38 L259.4 406.69 L259.68 405.94 L259.95 405.1 L260.23 404.2 L260.5 403.23 L260.77 402.16 L261.05 400.98 L261.32 399.71 L261.6 398.37 L261.88 396.97 L262.15 395.53 L262.42 394.08 L262.7 392.62 L262.98 391.14 L263.25 389.65 L263.52 388.11 L263.8 386.38 L264.08 384.37 L264.35 381.98 L264.62 379.14 L264.9 375.25 L265.18 369.1 L265.45 353.5 L265.73 285.21 L266 246.63 L266 504.67 L266.46 500.61 L266.92 496.79 L267.38 493.68 L267.84 491.75 L268.3 490.9 L268.76 490.18 L269.22 489.55 L269.68 489.01 L270.14 488.58 L270.6 488.25 L271.06 488.02 L271.52 487.9 L271.98 487.85 L272.44 487.86 L272.9 487.93 L273.36 488.07 L273.82 488.27 L274.28 488.52 L274.74 488.8 L275.2 489.12 L275.66 489.5 L276.12 489.97 L276.58 490.49 L277.04 491.06 L277.5 491.71 L277.96 492.42 L278.42 493.18 L278.88 494.04 L279.34 495.04 L279.8 496.14 L280.26 497.29 L280.72 498.46 L281.18 499.59 L281.64 500.68 L282.1 501.78 L282.56 502.98 L283.02 504.18 L283.48 505.24 L283.94 506.06 L284.4 506.55 L284.86 506.93 L285.32 507.27 L285.78 507.63 L286.24 507.99 L286.7 508.33 L287.16 508.64 L287.62 508.88 L288.08 509.01 L288.54 509.03 L289 508.93 L289.46 508.76 L289.92 508.55 L290.38 508.33 L290.84 508.13 L291.3 507.99 L291.76 507.92 L292.22 507.9 L292.68 507.9 L293.14 507.9 L293.6 507.9 L293.6 403.66 L293.86 405.13 L294.12 406.55 L294.38 407.89 L294.65 409.09 L294.91 410.1 L295.17 410.87 L295.43 411.46 L295.69 411.9 L295.95 412.3 L296.21 412.67 L296.47 413 L296.74 413.3 L297 413.56 L297.26 413.77 L297.52 413.94 L297.78 414.05 L298.04 414.14 L298.3 414.2 L298.56 414.23 L298.83 414.25 L299.09 414.26 L299.35 414.27 L299.61 414.27 L299.87 414.27 L300.13 414.26 L300.39 414.25 L300.65 414.23 L300.92 414.21 L301.18 414.18 L301.44 414.15 L301.7 414.12 L301.96 414.07 L302.22 413.99 L302.48 413.89 L302.74 413.77 L303 413.63 L303.27 413.48 L303.53 413.31 L303.79 413.12 L304.05 412.92 L304.31 412.72 L304.57 412.5 L304.83 412.27 L305.1 411.97 L305.36 411.61 L305.62 411.2 L305.88 410.75 L306.14 410.26 L306.4 409.75 L306.66 409.22 L306.92 408.67 L307.18 408.09 L307.45 407.46 L307.71 406.79 L307.97 406.06 L308.23 405.29 L308.49 404.47 L308.75 403.57 L309.01 402.61 L309.27 401.59 L309.54 400.46 L309.8 399.19 L310.06 397.82 L310.32 396.35 L310.58 394.8 L310.84 393.21 L311.1 391.6 L311.36 389.97 L311.63 388.34 L311.89 386.77 L312.15 385.19 L312.41 383.45 L312.67 381.43 L312.93 378.99 L313.19 376.06 L313.46 372.15 L313.72 365.9 L313.98 350.24 L314.24 283.48 L314.5 246.63 L314.5 505.87 L314.95 501.67 L315.41 497.75 L315.86 494.59 L316.31 492.64 L316.77 491.82 L317.22 491.12 L317.67 490.52 L318.13 490.02 L318.58 489.63 L319.03 489.35 L319.49 489.18 L319.94 489.12 L320.39 489.1 L320.85 489.13 L321.3 489.2 L321.75 489.31 L322.21 489.46 L322.66 489.64 L323.11 489.84 L323.57 490.07 L324.02 490.39 L324.47 490.82 L324.93 491.34 L325.38 491.94 L325.83 492.6 L326.29 493.33 L326.74 494.1 L327.19 494.99 L327.65 496.08 L328.1 497.3 L328.55 498.6 L329.01 499.92 L329.46 501.21 L329.91 502.41 L330.37 503.61 L330.82 504.95 L331.27 506.26 L331.73 507.39 L332.18 508.17 L332.63 508.48 L333.09 508.67 L333.54 508.84 L333.99 509.02 L334.45 509.2 L334.9 509.37 L335.35 509.52 L335.81 509.63 L336.26 509.66 L336.71 509.61 L337.17 509.48 L337.62 509.31 L338.07 509.11 L338.53 508.91 L338.98 508.73 L339.43 508.59 L339.89 508.51 L340.34 508.49 L340.79 508.49 L341.25 508.49 L341.7 508.49 L341.7 403.29 L341.97 404.56 L342.24 405.8 L342.51 406.98 L342.78 408.05 L343.04 408.98 L343.31 409.73 L343.58 410.25 L343.85 410.59 L344.12 410.9 L344.39 411.19 L344.66 411.45 L344.92 411.69 L345.19 411.9 L345.46 412.09 L345.73 412.25 L346 412.39 L346.27 412.5 L346.54 412.59 L346.81 412.66 L347.08 412.7 L347.34 412.75 L347.61 412.79 L347.88 412.83 L348.15 412.87 L348.42 412.9 L348.69 412.93 L348.96 412.95 L349.22 412.97 L349.49 412.99 L349.76 413 L350.03 413 L350.3 412.99 L350.57 412.96 L350.84 412.89 L351.11 412.81 L351.38 412.7 L351.64 412.58 L351.91 412.44 L352.18 412.28 L352.45 412.11 L352.72 411.93 L352.99 411.74 L353.26 411.53 L353.52 411.23 L353.79 410.85 L354.06 410.41 L354.33 409.91 L354.6 409.37 L354.87 408.8 L355.14 408.22 L355.41 407.62 L355.68 406.98 L355.94 406.28 L356.21 405.54 L356.48 404.75 L356.75 403.9 L357.02 402.99 L357.29 402.04 L357.56 401.02 L357.82 399.95 L358.09 398.75 L358.36 397.4 L358.63 395.92 L358.9 394.32 L359.17 392.64 L359.44 390.9 L359.71 389.11 L359.98 387.32 L360.24 385.53 L360.51 383.88 L360.78 382.26 L361.05 380.52 L361.32 378.49 L361.59 376 L361.86 372.98 L362.12 369.04 L362.39 362.7 L362.66 346.99 L362.93 281.76 L363.2 246.63 L363.2 507.07 L363.65 502.74 L364.1 498.72 L364.55 495.49 L365 493.54 L365.45 492.73 L365.9 492.06 L366.35 491.5 L366.8 491.03 L367.25 490.68 L367.7 490.45 L368.15 490.34 L368.6 490.33 L369.05 490.36 L369.5 490.4 L369.95 490.47 L370.4 490.55 L370.85 490.65 L371.3 490.76 L371.75 490.89 L372.2 491.03 L372.65 491.28 L373.1 491.68 L373.55 492.2 L374 492.81 L374.45 493.5 L374.9 494.24 L375.35 495.01 L375.8 495.94 L376.25 497.12 L376.7 498.46 L377.15 499.91 L377.6 501.39 L378.05 502.83 L378.5 504.14 L378.95 505.44 L379.4 506.91 L379.85 508.34 L380.3 509.54 L380.75 510.28 L381.2 510.41 L381.65 510.41 L382.1 510.41 L382.55 510.41 L383 510.41 L383.45 510.41 L383.9 510.41 L384.35 510.39 L384.8 510.31 L385.25 510.19 L385.7 510.03 L386.15 509.85 L386.6 509.67 L387.05 509.49 L387.5 509.33 L387.95 509.19 L388.4 509.11 L388.85 509.07 L389.3 509.07 L389.75 509.07 L390.2 509.07 L390.2 403.79 L390.46 404.75 L390.73 405.71 L391 406.62 L391.26 407.46 L391.52 408.2 L391.79 408.81 L392.06 409.26 L392.32 409.59 L392.58 409.91 L392.85 410.21 L393.12 410.51 L393.38 410.79 L393.64 411.05 L393.91 411.28 L394.18 411.5 L394.44 411.68 L394.7 411.84 L394.97 411.96 L395.24 412.04 L395.5 412.11 L395.76 412.18 L396.03 412.24 L396.29 412.3 L396.56 412.36 L396.82 412.41 L397.09 412.46 L397.35 412.5 L397.62 412.54 L397.88 412.57 L398.15 412.59 L398.42 412.61 L398.68 412.62 L398.94 412.6 L399.21 412.55 L399.48 412.49 L399.74 412.4 L400 412.3 L400.27 412.17 L400.54 412.03 L400.8 411.88 L401.06 411.71 L401.33 411.54 L401.6 411.34 L401.86 411.08 L402.12 410.74 L402.39 410.35 L402.66 409.92 L402.92 409.45 L403.18 408.96 L403.45 408.45 L403.72 407.92 L403.98 407.35 L404.24 406.72 L404.51 406.05 L404.78 405.32 L405.04 404.54 L405.3 403.71 L405.57 402.83 L405.84 401.9 L406.1 400.92 L406.36 399.84 L406.63 398.61 L406.9 397.26 L407.16 395.79 L407.42 394.25 L407.69 392.63 L407.96 390.98 L408.22 389.3 L408.48 387.63 L408.75 386.06 L409.02 384.52 L409.28 382.85 L409.54 380.88 L409.81 378.47 L410.08 375.53 L410.34 371.64 L410.6 365.34 L410.87 349.58 L411.14 283.34 L411.4 246.63 L411.4 507 L411.86 502.75 L412.32 498.83 L412.78 495.75 L413.23 493.94 L413.69 493.08 L414.15 492.37 L414.61 491.77 L415.07 491.29 L415.52 490.96 L415.98 490.76 L416.44 490.67 L416.9 490.67 L417.36 490.69 L417.82 490.72 L418.28 490.77 L418.73 490.84 L419.19 490.92 L419.65 491.01 L420.11 491.12 L420.57 491.26 L421.02 491.51 L421.48 491.88 L421.94 492.36 L422.4 492.93 L422.86 493.56 L423.32 494.25 L423.78 494.96 L424.23 495.8 L424.69 496.87 L425.15 498.11 L425.61 499.46 L426.07 500.84 L426.52 502.19 L426.98 503.45 L427.44 504.7 L427.9 506.14 L428.36 507.54 L428.82 508.71 L429.28 509.41 L429.73 509.57 L430.19 509.62 L430.65 509.65 L431.11 509.67 L431.57 509.68 L432.02 509.67 L432.48 509.66 L432.94 509.62 L433.4 509.53 L433.86 509.41 L434.32 509.26 L434.78 509.1 L435.23 508.94 L435.69 508.78 L436.15 508.65 L436.61 508.55 L437.07 508.49 L437.52 508.48 L437.98 508.49 L438.44 508.51 L438.9 508.54 L438.9 404.28 L439.15 404.95 L439.4 405.61 L439.66 406.26 L439.91 406.87 L440.16 407.42 L440.42 407.9 L440.67 408.28 L440.92 408.59 L441.17 408.91 L441.42 409.24 L441.68 409.57 L441.93 409.89 L442.18 410.2 L442.44 410.48 L442.69 410.75 L442.94 410.98 L443.19 411.17 L443.44 411.32 L443.7 411.43 L443.95 411.52 L444.2 411.61 L444.46 411.69 L444.71 411.77 L444.96 411.85 L445.21 411.92 L445.46 411.99 L445.72 412.05 L445.97 412.1 L446.22 412.15 L446.48 412.19 L446.73 412.22 L446.98 412.24 L447.23 412.23 L447.48 412.21 L447.74 412.16 L447.99 412.1 L448.24 412.01 L448.5 411.91 L448.75 411.79 L449 411.65 L449.25 411.5 L449.5 411.34 L449.76 411.16 L450.01 410.92 L450.26 410.63 L450.52 410.3 L450.77 409.93 L451.02 409.54 L451.27 409.12 L451.52 408.69 L451.78 408.23 L452.03 407.72 L452.28 407.17 L452.54 406.56 L452.79 405.9 L453.04 405.19 L453.29 404.43 L453.54 403.63 L453.8 402.78 L454.05 401.89 L454.3 400.92 L454.56 399.82 L454.81 398.59 L455.06 397.27 L455.31 395.85 L455.56 394.37 L455.82 392.85 L456.07 391.29 L456.32 389.73 L456.58 388.25 L456.83 386.78 L457.08 385.17 L457.33 383.27 L457.58 380.94 L457.84 378.08 L458.09 374.23 L458.34 367.98 L458.6 352.17 L458.85 284.91 L459.1 246.63 L459.1 506.93 L459.56 502.75 L460.02 498.94 L460.48 496.01 L460.94 494.34 L461.4 493.43 L461.86 492.67 L462.32 492.04 L462.78 491.55 L463.24 491.23 L463.7 491.07 L464.16 491 L464.62 491 L465.08 491.01 L465.54 491.04 L466 491.08 L466.46 491.13 L466.92 491.19 L467.38 491.26 L467.84 491.35 L468.3 491.49 L468.76 491.73 L469.22 492.08 L469.68 492.52 L470.14 493.04 L470.6 493.62 L471.06 494.25 L471.52 494.9 L471.98 495.65 L472.44 496.62 L472.9 497.76 L473.36 499 L473.82 500.29 L474.28 501.56 L474.74 502.76 L475.2 503.97 L475.66 505.36 L476.12 506.74 L476.58 507.87 L477.04 508.55 L477.5 508.74 L477.96 508.82 L478.42 508.89 L478.88 508.93 L479.34 508.94 L479.8 508.93 L480.26 508.9 L480.72 508.85 L481.18 508.76 L481.64 508.63 L482.1 508.49 L482.56 508.35 L483.02 508.2 L483.48 508.08 L483.94 507.98 L484.4 507.91 L484.86 507.88 L485.32 507.88 L485.78 507.92 L486.24 507.96 L486.7 508 L486.7 404.78 L486.97 405.14 L487.24 405.52 L487.51 405.9 L487.78 406.28 L488.04 406.63 L488.31 406.98 L488.58 407.3 L488.85 407.59 L489.12 407.92 L489.39 408.27 L489.66 408.63 L489.92 408.99 L490.19 409.34 L490.46 409.68 L490.73 410 L491 410.27 L491.27 410.51 L491.54 410.69 L491.81 410.81 L492.08 410.92 L492.34 411.03 L492.61 411.14 L492.88 411.24 L493.15 411.34 L493.42 411.43 L493.69 411.52 L493.96 411.6 L494.22 411.67 L494.49 411.73 L494.76 411.79 L495.03 411.83 L495.3 411.86 L495.57 411.87 L495.84 411.87 L496.11 411.84 L496.38 411.79 L496.64 411.73 L496.91 411.64 L497.18 411.54 L497.45 411.42 L497.72 411.29 L497.99 411.14 L498.26 410.98 L498.52 410.77 L498.79 410.53 L499.06 410.25 L499.33 409.95 L499.6 409.62 L499.87 409.28 L500.14 408.93 L500.41 408.54 L500.68 408.1 L500.94 407.61 L501.21 407.06 L501.48 406.47 L501.75 405.83 L502.02 405.15 L502.29 404.43 L502.56 403.67 L502.82 402.86 L503.09 402 L503.36 401.03 L503.63 399.93 L503.9 398.74 L504.17 397.46 L504.44 396.11 L504.71 394.71 L504.98 393.28 L505.24 391.82 L505.51 390.44 L505.78 389.04 L506.05 387.5 L506.32 385.66 L506.59 383.41 L506.86 380.63 L507.12 376.82 L507.39 370.61 L507.66 354.77 L507.93 286.49 L508.2 246.63 L508.2 506.86 L508.64 502.76 L509.09 499.04 L509.53 496.27 L509.97 494.73 L510.42 493.78 L510.86 492.97 L511.3 492.31 L511.75 491.81 L512.19 491.5 L512.63 491.38 L513.08 491.34 L513.52 491.33 L513.96 491.34 L514.41 491.36 L514.85 491.39 L515.29 491.42 L515.74 491.46 L516.18 491.51 L516.62 491.58 L517.07 491.72 L517.51 491.95 L517.95 492.27 L518.4 492.68 L518.84 493.16 L519.28 493.69 L519.73 494.25 L520.17 494.84 L520.61 495.51 L521.06 496.38 L521.5 497.41 L521.94 498.55 L522.39 499.74 L522.83 500.93 L523.27 502.06 L523.72 503.23 L524.16 504.59 L524.6 505.94 L525.05 507.04 L525.49 507.69 L525.93 507.9 L526.38 508.03 L526.82 508.13 L527.26 508.19 L527.71 508.2 L528.15 508.18 L528.59 508.14 L529.04 508.08 L529.48 507.98 L529.92 507.85 L530.37 507.72 L530.81 507.59 L531.25 507.47 L531.7 507.37 L532.14 507.31 L532.58 507.27 L533.03 507.26 L533.47 507.29 L533.91 507.34 L534.36 507.4 L534.8 507.47 L534.8 405.27 L535.07 405.33 L535.33 405.42 L535.6 405.54 L535.87 405.68 L536.14 405.85 L536.4 406.06 L536.67 406.31 L536.94 406.59 L537.21 406.92 L537.47 407.29 L537.74 407.68 L538.01 408.09 L538.28 408.49 L538.54 408.88 L538.81 409.24 L539.08 409.57 L539.35 409.84 L539.62 410.05 L539.88 410.2 L540.15 410.33 L540.42 410.46 L540.68 410.59 L540.95 410.71 L541.22 410.83 L541.49 410.94 L541.76 411.05 L542.02 411.15 L542.29 411.23 L542.56 411.31 L542.83 411.38 L543.09 411.44 L543.36 411.49 L543.63 411.51 L543.9 411.52 L544.16 411.52 L544.43 411.49 L544.7 411.44 L544.96 411.38 L545.23 411.29 L545.5 411.19 L545.77 411.07 L546.04 410.94 L546.3 410.79 L546.57 410.62 L546.84 410.42 L547.1 410.2 L547.37 409.96 L547.64 409.7 L547.91 409.44 L548.17 409.17 L548.44 408.85 L548.71 408.47 L548.98 408.05 L549.24 407.57 L549.51 407.05 L549.78 406.48 L550.05 405.87 L550.32 405.23 L550.58 404.55 L550.85 403.84 L551.12 403.08 L551.38 402.23 L551.65 401.27 L551.92 400.21 L552.19 399.07 L552.46 397.85 L552.72 396.58 L552.99 395.26 L553.26 393.92 L553.53 392.62 L553.79 391.3 L554.06 389.82 L554.33 388.06 L554.6 385.87 L554.86 383.18 L555.13 379.42 L555.4 373.25 L555.67 357.36 L555.93 288.07 L556.2 246.63 L556.2 506.8 L556.65 502.76 L557.1 499.15 L557.55 496.54 L558 495.13 L558.45 494.13 L558.9 493.27 L559.35 492.58 L559.8 492.07 L560.25 491.78 L560.7 491.69 L561.15 491.67 L561.6 491.67 L562.05 491.67 L562.5 491.68 L562.95 491.69 L563.4 491.71 L563.85 491.73 L564.3 491.75 L564.75 491.82 L565.2 491.95 L565.65 492.17 L566.1 492.47 L566.55 492.84 L567 493.27 L567.45 493.75 L567.9 494.26 L568.35 494.79 L568.8 495.37 L569.25 496.13 L569.7 497.05 L570.15 498.09 L570.6 499.19 L571.05 500.3 L571.5 501.37 L571.95 502.49 L572.4 503.82 L572.85 505.13 L573.3 506.21 L573.75 506.82 L574.2 507.06 L574.65 507.23 L575.1 507.37 L575.55 507.45 L576 507.47 L576.45 507.44 L576.9 507.38 L577.35 507.3 L577.8 507.2 L578.25 507.08 L578.7 506.95 L579.15 506.84 L579.6 506.74 L580.05 506.67 L580.5 506.64 L580.95 506.63 L581.4 506.65 L581.85 506.69 L582.3 506.76 L582.75 506.84 L583.2 506.93 L583.2 405.77 L583.46 405.52 L583.73 405.32 L583.99 405.18 L584.26 405.09 L584.52 405.07 L584.78 405.15 L585.05 405.33 L585.31 405.6 L585.57 405.93 L585.84 406.32 L586.1 406.74 L586.36 407.19 L586.63 407.64 L586.89 408.08 L587.16 408.49 L587.42 408.86 L587.68 409.18 L587.95 409.42 L588.21 409.58 L588.48 409.74 L588.74 409.89 L589 410.04 L589.27 410.18 L589.53 410.32 L589.79 410.45 L590.06 410.58 L590.32 410.69 L590.58 410.8 L590.85 410.89 L591.11 410.98 L591.38 411.05 L591.64 411.11 L591.9 411.15 L592.17 411.18 L592.43 411.19 L592.7 411.19 L592.96 411.16 L593.22 411.11 L593.49 411.04 L593.75 410.96 L594.01 410.86 L594.28 410.74 L594.54 410.61 L594.8 410.46 L595.07 410.31 L595.33 410.14 L595.6 409.97 L595.86 409.79 L596.12 409.6 L596.39 409.4 L596.65 409.15 L596.92 408.85 L597.18 408.49 L597.44 408.08 L597.71 407.62 L597.97 407.13 L598.23 406.59 L598.5 406.03 L598.76 405.43 L599.02 404.81 L599.29 404.17 L599.55 403.44 L599.82 402.61 L600.08 401.68 L600.34 400.67 L600.61 399.59 L600.87 398.45 L601.14 397.25 L601.4 396.02 L601.66 394.81 L601.93 393.56 L602.19 392.14 L602.45 390.45 L602.72 388.34 L602.98 385.73 L603.24 382.01 L603.51 375.89 L603.77 359.95 L604.04 289.65 L604.3 246.63 L604.3 506.73 L604.76 502.77 L605.23 499.26 L605.69 496.8 L606.15 495.53 L606.62 494.47 L607.08 493.57 L607.54 492.85 L608.01 492.33 L608.47 492.05 L608.93 492 L609.4 492 L609.86 492 L610.32 492 L610.79 492 L611.25 492 L611.71 492 L612.18 492 L612.64 492 L613.1 492.05 L613.57 492.18 L614.03 492.39 L614.49 492.67 L614.96 493.01 L615.42 493.39 L615.88 493.81 L616.35 494.26 L616.81 494.73 L617.27 495.22 L617.74 495.88 L618.2 496.7 L618.66 497.63 L619.13 498.64 L619.59 499.67 L620.05 500.68 L620.52 501.76 L620.98 503.05 L621.44 504.33 L621.91 505.38 L622.37 505.96 L622.83 506.22 L623.3 506.44 L623.76 506.6 L624.22 506.7 L624.69 506.73 L625.15 506.7 L625.61 506.63 L626.08 506.53 L626.54 506.42 L627 506.3 L627.47 506.18 L627.93 506.08 L628.39 506.01 L628.86 505.96 L629.32 505.96 L629.78 505.99 L630.25 506.03 L630.71 506.1 L631.17 506.18 L631.64 506.28 L632.1 506.4 L632.1 405.77 L632.36 405.52 L632.62 405.32 L632.87 405.18 L633.13 405.09 L633.39 405.07 L633.64 405.15 L633.9 405.33 L634.16 405.6 L634.42 405.93 L634.68 406.32 L634.93 406.74 L635.19 407.19 L635.45 407.64 L635.71 408.08 L635.96 408.49 L636.22 408.86 L636.48 409.18 L636.74 409.42 L636.99 409.58 L637.25 409.74 L637.51 409.89 L637.76 410.04 L638.02 410.18 L638.28 410.32 L638.54 410.45 L638.8 410.58 L639.05 410.69 L639.31 410.8 L639.57 410.89 L639.83 410.98 L640.08 411.05 L640.34 411.11 L640.6 411.15 L640.86 411.18 L641.11 411.19 L641.37 411.19 L641.63 411.16 L641.88 411.11 L642.14 411.04 L642.4 410.96 L642.66 410.86 L642.92 410.74 L643.17 410.61 L643.43 410.46 L643.69 410.31 L643.95 410.14 L644.2 409.97 L644.46 409.79 L644.72 409.6 L644.98 409.4 L645.23 409.15 L645.49 408.85 L645.75 408.49 L646 408.08 L646.26 407.62 L646.52 407.13 L646.78 406.59 L647.04 406.03 L647.29 405.43 L647.55 404.81 L647.81 404.17 L648.07 403.44 L648.32 402.61 L648.58 401.68 L648.84 400.67 L649.1 399.59 L649.35 398.45 L649.61 397.25 L649.87 396.02 L650.12 394.81 L650.38 393.56 L650.64 392.14 L650.9 390.45 L651.16 388.34 L651.41 385.73 L651.67 382.01 L651.93 375.89 L652.19 359.95 L652.44 289.65 L652.7 246.63 L652.7 506.73 L653.16 502.77 L653.63 499.26 L654.09 496.8 L654.55 495.53 L655.02 494.47 L655.48 493.57 L655.94 492.85 L656.41 492.33 L656.87 492.05 L657.33 492 L657.8 492 L658.26 492 L658.72 492 L659.19 492 L659.65 492 L660.11 492 L660.58 492 L661.04 492 L661.5 492.05 L661.97 492.18 L662.43 492.39 L662.89 492.67 L663.36 493.01 L663.82 493.39 L664.28 493.81 L664.75 494.26 L665.21 494.73 L665.67 495.22 L666.14 495.88 L666.6 496.7 L667.06 497.63 L667.53 498.64 L667.99 499.67 L668.45 500.68 L668.92 501.76 L669.38 503.05 L669.84 504.33 L670.31 505.38 L670.77 505.96 L671.23 506.22 L671.7 506.44 L672.16 506.6 L672.62 506.7 L673.09 506.73 L673.55 506.7 L674.01 506.63 L674.48 506.53 L674.94 506.42 L675.4 506.3 L675.87 506.18 L676.33 506.08 L676.79 506.01 L677.26 505.96 L677.72 505.96 L678.18 505.99 L678.65 506.03 L679.11 506.1 L679.57 506.18 L680.04 506.28 L680.5 506.4" fill="none" stroke="#ee1c1c" stroke-width="2.5" stroke-linejoin="round" clip-path="url(#ca1)"/>
<text x="105.5" y="327.58" font-size="23.5" text-anchor="end" font-family='"Liberation Sans", Arial, sans-serif'>0.4</text>
<text x="105.5" y="394.53" font-size="23.5" text-anchor="end" font-family='"Liberation Sans", Arial, sans-serif'>0.2</text>
<text x="105.5" y="461.48" font-size="23.5" text-anchor="end" font-family='"Liberation Sans", Arial, sans-serif'>0.0</text>
<text x="105.5" y="528.42" font-size="23.5" text-anchor="end" font-family='"Liberation Sans", Arial, sans-serif'>-0.2</text>
<rect x="605.8" y="513.8" width="41.8" height="38.2" rx="2" fill="#fff" stroke="#333" stroke-width="1.6"/>
<text x="626.9" y="542.4" font-size="27.9" text-anchor="middle" font-family='"Liberation Sans", Arial, sans-serif'>Sb</text>
<g stroke="#000" stroke-width="2.1" fill="none">
<path d="M117 598.56h10 M656.9 598.56h-10 M117 665.49h10 M656.9 665.49h-10 M117 732.41h10 M656.9 732.41h-10 M117 799.34h10 M656.9 799.34h-10 M117 632.03h5 M656.9 632.03h-5 M117 698.95h5 M656.9 698.95h-5 M117 765.88h5 M656.9 765.88h-5 M386.95 565.1v10 M386.95 832.8v-10 M251.97 565.1v5 M251.97 832.8v-5 M521.92 565.1v5 M521.92 832.8v-5"/>
</g>
<rect x="117" y="565.1" width="539.9" height="267.7" fill="none" stroke="#000" stroke-width="2.1"/>
<path d="M117.1 560.1 L117.3 805 L117.99 803.38 L118.68 801.73 L119.38 800.05 L120.07 798.31 L120.76 796.45 L121.45 794.54 L122.15 792.72 L122.84 791.12 L123.53 789.67 L124.22 788.28 L124.92 786.98 L125.61 785.81 L126.3 784.8 L126.99 783.97 L127.68 783.23 L128.38 782.56 L129.07 781.94 L129.76 781.37 L130.45 780.85 L131.15 780.35 L131.84 779.89 L132.53 779.44 L133.22 779.02 L133.92 778.62 L134.61 778.25 L135.3 777.89 L135.99 777.56 L136.68 777.23 L137.38 776.91 L138.07 776.6 L138.76 776.28 L139.45 775.97 L140.15 775.67 L140.84 775.37 L141.53 775.08 L142.22 774.8 L142.92 774.52 L143.61 774.26 L144.3 774 L144.3 688.24 L144.62 691.63 L144.94 694.9 L145.26 697.79 L145.58 700.08 L145.9 701.52 L146.22 702.57 L146.54 703.53 L146.86 704.39 L147.18 705.16 L147.5 705.84 L147.82 706.43 L148.14 706.94 L148.46 707.35 L148.78 707.69 L149.1 707.94 L149.42 708.14 L149.74 708.33 L150.06 708.51 L150.38 708.68 L150.7 708.85 L151.02 709 L151.34 709.14 L151.66 709.28 L151.98 709.4 L152.3 709.51 L152.62 709.62 L152.94 709.71 L153.26 709.78 L153.58 709.85 L153.9 709.91 L154.22 709.95 L154.54 709.98 L154.86 709.99 L155.18 709.99 L155.5 709.98 L155.82 709.95 L156.14 709.9 L156.46 709.84 L156.78 709.77 L157.1 709.68 L157.42 709.59 L157.74 709.48 L158.06 709.36 L158.38 709.23 L158.7 709.1 L159.02 708.96 L159.34 708.81 L159.66 708.65 L159.98 708.49 L160.3 708.33 L160.62 708.16 L160.94 707.98 L161.26 707.8 L161.58 707.58 L161.9 707.33 L162.22 707.05 L162.54 706.75 L162.86 706.42 L163.18 706.06 L163.5 705.67 L163.82 705.26 L164.14 704.83 L164.46 704.37 L164.78 703.88 L165.1 703.38 L165.42 702.85 L165.74 702.3 L166.06 701.74 L166.38 701.12 L166.7 700.39 L167.02 699.52 L167.34 698.46 L167.66 697.18 L167.98 695.56 L168.3 692.84 L168.62 688.29 L168.94 680.23 L169.26 638.34 L169.58 560.97 L169.9 524.95 L169.9 753.33 L170.35 753.13 L170.8 752.95 L171.26 752.79 L171.71 752.64 L172.16 752.51 L172.61 752.39 L173.06 752.29 L173.51 752.19 L173.96 752.11 L174.42 752.04 L174.87 751.99 L175.32 751.94 L175.77 751.9 L176.22 751.87 L176.68 751.85 L177.13 751.83 L177.58 751.82 L178.03 751.82 L178.48 751.83 L178.93 751.86 L179.38 751.92 L179.84 751.99 L180.29 752.08 L180.74 752.2 L181.19 752.32 L181.64 752.47 L182.1 752.63 L182.55 752.81 L183 753 L183.45 753.2 L183.9 753.42 L184.35 753.65 L184.8 753.88 L185.26 754.13 L185.71 754.39 L186.16 754.67 L186.61 755.02 L187.06 755.44 L187.52 755.94 L187.97 756.52 L188.42 757.2 L188.87 757.96 L189.32 758.82 L189.77 759.78 L190.22 760.84 L190.68 762.1 L191.13 764.32 L191.58 767.18 L192.03 770.15 L192.48 772.72 L192.94 775.47 L193.39 777.84 L193.84 778.58 L194.29 778.38 L194.74 777.98 L195.19 777.49 L195.64 777.02 L196.1 776.68 L196.55 776.58 L197 776.58 L197 689.16 L197.32 692.07 L197.64 694.86 L197.96 697.36 L198.28 699.37 L198.59 700.73 L198.91 701.75 L199.23 702.67 L199.55 703.5 L199.87 704.24 L200.19 704.91 L200.51 705.5 L200.82 706.01 L201.14 706.45 L201.46 706.82 L201.78 707.12 L202.1 707.36 L202.42 707.59 L202.74 707.81 L203.06 708.03 L203.38 708.23 L203.69 708.43 L204.01 708.61 L204.33 708.78 L204.65 708.94 L204.97 709.08 L205.29 709.21 L205.61 709.31 L205.92 709.4 L206.24 709.47 L206.56 709.51 L206.88 709.54 L207.2 709.56 L207.52 709.57 L207.84 709.57 L208.16 709.56 L208.48 709.54 L208.79 709.51 L209.11 709.46 L209.43 709.41 L209.75 709.34 L210.07 709.26 L210.39 709.15 L210.71 709.02 L211.02 708.87 L211.34 708.7 L211.66 708.51 L211.98 708.32 L212.3 708.12 L212.62 707.91 L212.94 707.7 L213.26 707.49 L213.58 707.29 L213.89 707.08 L214.21 706.85 L214.53 706.61 L214.85 706.35 L215.17 706.07 L215.49 705.77 L215.81 705.44 L216.12 705.1 L216.44 704.74 L216.76 704.36 L217.08 703.96 L217.4 703.53 L217.72 703.08 L218.04 702.61 L218.36 702.13 L218.68 701.62 L218.99 701.06 L219.31 700.42 L219.63 699.68 L219.95 698.78 L220.27 697.67 L220.59 696.28 L220.91 694.01 L221.22 690.28 L221.54 683.37 L221.86 649.79 L222.18 579.13 L222.5 524.95 L222.5 753.96 L222.96 753.68 L223.42 753.41 L223.88 753.17 L224.33 752.98 L224.79 752.81 L225.25 752.67 L225.71 752.54 L226.17 752.42 L226.62 752.33 L227.08 752.24 L227.54 752.18 L228 752.13 L228.46 752.09 L228.92 752.07 L229.38 752.04 L229.83 752.03 L230.29 752.02 L230.75 752.02 L231.21 752.03 L231.67 752.06 L232.12 752.11 L232.58 752.18 L233.04 752.28 L233.5 752.4 L233.96 752.54 L234.42 752.69 L234.88 752.87 L235.33 753.06 L235.79 753.27 L236.25 753.49 L236.71 753.73 L237.17 753.98 L237.62 754.25 L238.08 754.54 L238.54 754.84 L239 755.17 L239.46 755.57 L239.92 756.05 L240.38 756.65 L240.83 757.37 L241.29 758.15 L241.75 758.98 L242.21 759.88 L242.67 760.84 L243.12 761.84 L243.58 763.02 L244.04 765.09 L244.5 767.76 L244.96 770.53 L245.42 772.91 L245.88 775.47 L246.33 777.67 L246.79 778.35 L247.25 778.14 L247.71 777.75 L248.17 777.28 L248.62 776.83 L249.08 776.51 L249.54 776.42 L250 776.42 L250 690.08 L250.31 692.5 L250.63 694.82 L250.94 696.93 L251.26 698.67 L251.57 699.94 L251.88 700.93 L252.2 701.8 L252.51 702.6 L252.82 703.32 L253.14 703.98 L253.45 704.57 L253.76 705.09 L254.08 705.55 L254.39 705.95 L254.71 706.29 L255.02 706.59 L255.33 706.85 L255.65 707.11 L255.96 707.37 L256.27 707.61 L256.59 707.85 L256.9 708.08 L257.22 708.29 L257.53 708.48 L257.84 708.65 L258.16 708.8 L258.47 708.92 L258.79 709.02 L259.1 709.08 L259.41 709.11 L259.73 709.13 L260.04 709.15 L260.35 709.15 L260.67 709.16 L260.98 709.15 L261.3 709.13 L261.61 709.11 L261.92 709.08 L262.24 709.04 L262.55 709 L262.86 708.93 L263.18 708.82 L263.49 708.68 L263.8 708.5 L264.12 708.3 L264.43 708.07 L264.75 707.83 L265.06 707.58 L265.37 707.33 L265.69 707.07 L266 706.83 L266.32 706.59 L266.63 706.36 L266.94 706.13 L267.26 705.89 L267.57 705.64 L267.88 705.38 L268.2 705.11 L268.51 704.83 L268.83 704.53 L269.14 704.22 L269.45 703.89 L269.77 703.54 L270.08 703.18 L270.39 702.79 L270.71 702.38 L271.02 701.95 L271.34 701.5 L271.65 701 L271.96 700.46 L272.28 699.84 L272.59 699.09 L272.9 698.17 L273.22 697 L273.53 695.17 L273.85 692.28 L274.16 686.52 L274.47 661.24 L274.79 597.3 L275.1 524.95 L275.1 755.88 L275.55 755.31 L276 754.78 L276.45 754.32 L276.9 753.98 L277.35 753.72 L277.8 753.5 L278.25 753.29 L278.7 753.11 L279.15 752.96 L279.6 752.84 L280.05 752.76 L280.5 752.7 L280.95 752.67 L281.4 752.65 L281.85 752.64 L282.3 752.62 L282.75 752.62 L283.2 752.62 L283.65 752.62 L284.1 752.65 L284.55 752.69 L285 752.76 L285.45 752.86 L285.9 753 L286.35 753.17 L286.8 753.37 L287.25 753.59 L287.7 753.83 L288.15 754.09 L288.6 754.36 L289.05 754.65 L289.5 754.98 L289.95 755.34 L290.4 755.74 L290.85 756.18 L291.3 756.66 L291.75 757.22 L292.2 757.87 L292.65 758.79 L293.1 759.9 L293.55 761.02 L294 762.03 L294.45 763.07 L294.9 764.04 L295.35 764.85 L295.8 765.78 L296.25 767.4 L296.7 769.49 L297.15 771.65 L297.6 773.49 L298.05 775.48 L298.5 777.17 L298.95 777.65 L299.4 777.43 L299.85 777.06 L300.3 776.64 L300.75 776.26 L301.2 775.99 L301.65 775.91 L302.1 775.91 L302.1 691 L302.4 692.93 L302.69 694.79 L302.99 696.49 L303.29 697.97 L303.58 699.15 L303.88 700.11 L304.17 700.94 L304.47 701.7 L304.77 702.4 L305.06 703.05 L305.36 703.64 L305.66 704.17 L305.95 704.66 L306.25 705.09 L306.54 705.47 L306.84 705.81 L307.14 706.11 L307.43 706.41 L307.73 706.71 L308.03 707 L308.32 707.28 L308.62 707.54 L308.91 707.79 L309.21 708.02 L309.51 708.22 L309.8 708.39 L310.1 708.53 L310.4 708.63 L310.69 708.69 L310.99 708.72 L311.28 708.73 L311.58 708.73 L311.88 708.74 L312.17 708.74 L312.47 708.73 L312.77 708.73 L313.06 708.71 L313.36 708.7 L313.65 708.68 L313.95 708.66 L314.25 708.61 L314.54 708.5 L314.84 708.33 L315.14 708.13 L315.43 707.89 L315.73 707.63 L316.02 707.34 L316.32 707.05 L316.62 706.75 L316.91 706.45 L317.21 706.16 L317.5 705.89 L317.8 705.64 L318.1 705.4 L318.39 705.17 L318.69 704.93 L318.99 704.7 L319.28 704.46 L319.58 704.21 L319.88 703.96 L320.17 703.7 L320.47 703.42 L320.76 703.13 L321.06 702.82 L321.36 702.5 L321.65 702.15 L321.95 701.77 L322.24 701.38 L322.54 700.94 L322.84 700.49 L323.13 700 L323.43 699.41 L323.73 698.67 L324.02 697.73 L324.32 696.34 L324.62 694.28 L324.91 689.67 L325.21 672.7 L325.5 615.46 L325.8 524.95 L325.8 759.07 L326.26 758.03 L326.71 757.06 L327.17 756.24 L327.62 755.64 L328.08 755.24 L328.53 754.88 L328.98 754.55 L329.44 754.26 L329.9 754.02 L330.35 753.84 L330.8 753.72 L331.26 753.66 L331.72 753.64 L332.17 753.63 L332.62 753.62 L333.08 753.61 L333.54 753.61 L333.99 753.61 L334.44 753.61 L334.9 753.63 L335.36 753.65 L335.81 753.71 L336.26 753.83 L336.72 754.01 L337.18 754.23 L337.63 754.5 L338.08 754.79 L338.54 755.12 L339 755.46 L339.45 755.81 L339.9 756.2 L340.36 756.65 L340.82 757.17 L341.27 757.75 L341.72 758.41 L342.18 759.14 L342.64 759.97 L343.09 760.91 L343.54 762.36 L344 764.13 L344.46 765.8 L344.91 767.11 L345.36 768.38 L345.82 769.36 L346.28 769.87 L346.73 770.37 L347.18 771.25 L347.64 772.37 L348.1 773.52 L348.55 774.47 L349 775.49 L349.46 776.34 L349.92 776.49 L350.37 776.24 L350.83 775.92 L351.28 775.59 L351.74 775.3 L352.19 775.12 L352.65 775.08 L353.1 775.08 L353.1 691.92 L353.38 693.36 L353.65 694.75 L353.92 696.06 L354.2 697.27 L354.48 698.36 L354.75 699.29 L355.02 700.08 L355.3 700.8 L355.58 701.48 L355.85 702.11 L356.12 702.7 L356.4 703.25 L356.68 703.76 L356.95 704.22 L357.22 704.64 L357.5 705.03 L357.78 705.37 L358.05 705.71 L358.33 706.05 L358.6 706.38 L358.88 706.7 L359.15 707.01 L359.42 707.29 L359.7 707.55 L359.98 707.79 L360.25 707.98 L360.52 708.14 L360.8 708.25 L361.08 708.31 L361.35 708.32 L361.62 708.32 L361.9 708.32 L362.18 708.32 L362.45 708.32 L362.72 708.32 L363 708.32 L363.28 708.32 L363.55 708.32 L363.83 708.32 L364.1 708.32 L364.38 708.28 L364.65 708.17 L364.92 707.99 L365.2 707.76 L365.48 707.49 L365.75 707.19 L366.02 706.86 L366.3 706.51 L366.58 706.16 L366.85 705.82 L367.12 705.49 L367.4 705.19 L367.68 704.92 L367.95 704.68 L368.22 704.45 L368.5 704.23 L368.78 704.01 L369.05 703.81 L369.33 703.6 L369.6 703.39 L369.88 703.18 L370.15 702.95 L370.42 702.72 L370.7 702.47 L370.98 702.2 L371.25 701.91 L371.52 701.6 L371.8 701.25 L372.08 700.88 L372.35 700.52 L372.62 700.15 L372.9 699.72 L373.18 699.17 L373.45 698.45 L373.72 697.5 L374 696.27 L374.28 692.81 L374.55 684.15 L374.83 633.63 L375.1 524.95 L375.1 763.53 L375.56 761.84 L376.01 760.26 L376.47 758.93 L376.93 757.98 L377.38 757.37 L377.84 756.81 L378.3 756.31 L378.75 755.87 L379.21 755.51 L379.67 755.23 L380.12 755.06 L380.58 755 L381.04 755 L381.49 755 L381.95 755 L382.41 755 L382.86 755 L383.32 755 L383.78 755 L384.23 755 L384.69 755 L385.15 755.05 L385.6 755.2 L386.06 755.42 L386.52 755.72 L386.97 756.07 L387.43 756.48 L387.89 756.91 L388.34 757.37 L388.8 757.84 L389.26 758.37 L389.71 758.99 L390.17 759.73 L390.63 760.57 L391.08 761.53 L391.54 762.61 L392 763.81 L392.45 765.17 L392.91 767.35 L393.37 770.05 L393.82 772.5 L394.28 774.23 L394.74 775.82 L395.19 776.81 L395.65 776.9 L396.11 776.81 L396.56 776.64 L397.02 776.41 L397.48 776.14 L397.93 775.83 L398.39 775.51 L398.85 775.18 L399.3 774.87 L399.76 774.57 L400.22 774.32 L400.67 774.11 L401.13 773.97 L401.59 773.91 L402.04 773.91 L402.5 773.91 L402.5 692.79 L402.76 693.79 L403.03 694.76 L403.29 695.71 L403.56 696.65 L403.82 697.53 L404.08 698.33 L404.35 699.04 L404.61 699.72 L404.87 700.38 L405.14 701.02 L405.4 701.64 L405.66 702.23 L405.93 702.78 L406.19 703.29 L406.46 703.75 L406.72 704.17 L406.98 704.54 L407.25 704.88 L407.51 705.21 L407.78 705.54 L408.04 705.86 L408.3 706.17 L408.57 706.46 L408.83 706.72 L409.09 706.96 L409.36 707.16 L409.62 707.33 L409.88 707.46 L410.15 707.53 L410.41 707.56 L410.68 707.58 L410.94 707.58 L411.2 707.58 L411.47 707.58 L411.73 707.58 L412 707.57 L412.26 707.57 L412.52 707.56 L412.79 707.56 L413.05 707.55 L413.31 707.51 L413.58 707.41 L413.84 707.26 L414.1 707.06 L414.37 706.83 L414.63 706.58 L414.9 706.3 L415.16 706.01 L415.42 705.72 L415.69 705.43 L415.95 705.16 L416.22 704.9 L416.48 704.67 L416.74 704.46 L417.01 704.25 L417.27 704.06 L417.53 703.86 L417.8 703.67 L418.06 703.48 L418.33 703.28 L418.59 703.08 L418.85 702.86 L419.12 702.64 L419.38 702.4 L419.64 702.14 L419.91 701.86 L420.17 701.56 L420.44 701.24 L420.7 700.88 L420.96 700.54 L421.23 700.18 L421.49 699.75 L421.75 699.2 L422.02 698.48 L422.28 697.53 L422.54 696.23 L422.81 692.74 L423.07 682.94 L423.34 625.79 L423.6 524.95 L423.6 764.87 L424.06 762.8 L424.52 760.9 L424.98 759.45 L425.44 758.48 L425.9 757.82 L426.36 757.22 L426.82 756.7 L427.28 756.25 L427.74 755.89 L428.2 755.63 L428.66 755.46 L429.12 755.39 L429.58 755.37 L430.04 755.35 L430.5 755.33 L430.96 755.32 L431.42 755.31 L431.88 755.3 L432.34 755.3 L432.8 755.31 L433.26 755.33 L433.72 755.41 L434.18 755.58 L434.64 755.82 L435.1 756.13 L435.56 756.49 L436.02 756.9 L436.48 757.34 L436.94 757.83 L437.4 758.35 L437.86 758.95 L438.32 759.66 L438.78 760.48 L439.24 761.41 L439.7 762.57 L440.16 763.83 L440.62 765.05 L441.08 766.36 L441.54 768.28 L442 770.57 L442.46 772.56 L442.92 773.94 L443.38 775.2 L443.84 775.99 L444.3 776.05 L444.76 775.96 L445.22 775.8 L445.68 775.6 L446.14 775.37 L446.6 775.1 L447.06 774.83 L447.52 774.55 L447.98 774.27 L448.44 774.01 L448.9 773.78 L449.36 773.59 L449.82 773.45 L450.28 773.37 L450.74 773.34 L451.2 773.3 L451.2 693.66 L451.47 694.22 L451.73 694.77 L452 695.36 L452.26 696.02 L452.53 696.71 L452.8 697.37 L453.06 698 L453.33 698.64 L453.6 699.29 L453.86 699.94 L454.13 700.58 L454.4 701.2 L454.66 701.79 L454.93 702.35 L455.19 702.86 L455.46 703.32 L455.73 703.71 L455.99 704.05 L456.26 704.38 L456.52 704.7 L456.79 705.02 L457.06 705.33 L457.32 705.62 L457.59 705.89 L457.86 706.13 L458.12 706.35 L458.39 706.52 L458.66 706.66 L458.92 706.76 L459.19 706.81 L459.45 706.84 L459.72 706.85 L459.99 706.85 L460.25 706.84 L460.52 706.84 L460.78 706.83 L461.05 706.82 L461.32 706.81 L461.58 706.79 L461.85 706.78 L462.12 706.73 L462.38 706.65 L462.65 706.52 L462.92 706.36 L463.18 706.18 L463.45 705.97 L463.71 705.75 L463.98 705.51 L464.25 705.28 L464.51 705.04 L464.78 704.82 L465.04 704.61 L465.31 704.42 L465.58 704.24 L465.84 704.06 L466.11 703.89 L466.38 703.71 L466.64 703.54 L466.91 703.36 L467.18 703.17 L467.44 702.98 L467.71 702.77 L467.97 702.56 L468.24 702.33 L468.51 702.08 L468.77 701.82 L469.04 701.53 L469.3 701.22 L469.57 700.89 L469.84 700.56 L470.1 700.2 L470.37 699.78 L470.64 699.23 L470.9 698.51 L471.17 697.57 L471.44 696.19 L471.7 692.66 L471.97 681.72 L472.23 617.96 L472.5 524.95 L472.5 766.21 L472.96 763.76 L473.42 761.55 L473.88 759.97 L474.33 758.99 L474.79 758.27 L475.25 757.63 L475.71 757.09 L476.17 756.63 L476.62 756.27 L477.08 756.02 L477.54 755.86 L478 755.78 L478.46 755.74 L478.92 755.7 L479.38 755.67 L479.83 755.64 L480.29 755.62 L480.75 755.61 L481.21 755.6 L481.67 755.61 L482.12 755.66 L482.58 755.77 L483.04 755.96 L483.5 756.22 L483.96 756.54 L484.42 756.91 L484.88 757.32 L485.33 757.76 L485.79 758.28 L486.25 758.87 L486.71 759.54 L487.17 760.33 L487.62 761.23 L488.08 762.25 L488.54 763.61 L489 765.04 L489.46 766.29 L489.92 767.54 L490.38 769.21 L490.83 771.08 L491.29 772.62 L491.75 773.65 L492.21 774.59 L492.67 775.17 L493.12 775.19 L493.58 775.11 L494.04 774.97 L494.5 774.8 L494.96 774.6 L495.42 774.38 L495.88 774.15 L496.33 773.91 L496.79 773.68 L497.25 773.45 L497.71 773.25 L498.17 773.07 L498.62 772.93 L499.08 772.83 L499.54 772.77 L500 772.7 L500 694.53 L500.26 694.64 L500.51 694.79 L500.77 695.02 L501.02 695.39 L501.28 695.88 L501.54 696.41 L501.79 696.96 L502.05 697.55 L502.31 698.19 L502.56 698.85 L502.82 699.51 L503.08 700.17 L503.33 700.81 L503.59 701.42 L503.84 701.97 L504.1 702.46 L504.36 702.88 L504.61 703.22 L504.87 703.54 L505.12 703.87 L505.38 704.18 L505.64 704.49 L505.89 704.78 L506.15 705.06 L506.41 705.31 L506.66 705.53 L506.92 705.72 L507.18 705.87 L507.43 705.98 L507.69 706.06 L507.94 706.1 L508.2 706.11 L508.46 706.11 L508.71 706.1 L508.97 706.09 L509.22 706.08 L509.48 706.07 L509.74 706.05 L509.99 706.03 L510.25 706 L510.51 705.96 L510.76 705.89 L511.02 705.79 L511.28 705.66 L511.53 705.52 L511.79 705.36 L512.04 705.19 L512.3 705.01 L512.56 704.83 L512.81 704.66 L513.07 704.48 L513.33 704.32 L513.58 704.16 L513.84 704.01 L514.09 703.87 L514.35 703.71 L514.61 703.56 L514.86 703.4 L515.12 703.24 L515.38 703.06 L515.63 702.88 L515.89 702.69 L516.14 702.48 L516.4 702.26 L516.66 702.02 L516.91 701.77 L517.17 701.5 L517.42 701.2 L517.68 700.89 L517.94 700.57 L518.19 700.22 L518.45 699.8 L518.71 699.26 L518.96 698.54 L519.22 697.6 L519.48 696.14 L519.73 692.58 L519.99 680.51 L520.24 610.13 L520.5 524.95 L520.5 767.55 L520.96 764.71 L521.42 762.19 L521.88 760.49 L522.33 759.49 L522.79 758.71 L523.25 758.04 L523.71 757.48 L524.17 757.01 L524.62 756.66 L525.08 756.42 L525.54 756.27 L526 756.17 L526.46 756.1 L526.92 756.05 L527.38 756 L527.83 755.96 L528.29 755.93 L528.75 755.91 L529.21 755.9 L529.67 755.92 L530.12 755.99 L530.58 756.12 L531.04 756.34 L531.5 756.62 L531.96 756.95 L532.42 757.33 L532.88 757.74 L533.33 758.19 L533.79 758.73 L534.25 759.38 L534.71 760.13 L535.17 761 L535.62 761.98 L536.08 763.1 L536.54 764.64 L537 766.26 L537.46 767.53 L537.92 768.72 L538.38 770.15 L538.83 771.6 L539.29 772.68 L539.75 773.36 L540.21 773.98 L540.67 774.35 L541.12 774.34 L541.58 774.26 L542.04 774.14 L542.5 773.99 L542.96 773.83 L543.42 773.65 L543.88 773.46 L544.33 773.27 L544.79 773.08 L545.25 772.89 L545.71 772.71 L546.17 772.55 L546.62 772.41 L547.08 772.29 L547.54 772.2 L548 772.1 L548 695.4 L548.26 695.07 L548.51 694.8 L548.77 694.67 L549.02 694.76 L549.28 695.05 L549.54 695.44 L549.79 695.92 L550.05 696.47 L550.31 697.09 L550.56 697.76 L550.82 698.45 L551.08 699.15 L551.33 699.83 L551.59 700.48 L551.84 701.08 L552.1 701.61 L552.36 702.04 L552.61 702.38 L552.87 702.71 L553.12 703.03 L553.38 703.35 L553.64 703.65 L553.89 703.95 L554.15 704.22 L554.41 704.48 L554.66 704.71 L554.92 704.91 L555.17 705.08 L555.43 705.21 L555.69 705.3 L555.94 705.36 L556.2 705.37 L556.46 705.37 L556.71 705.36 L556.97 705.35 L557.22 705.34 L557.48 705.32 L557.74 705.29 L557.99 705.26 L558.25 705.23 L558.51 705.19 L558.76 705.13 L559.02 705.05 L559.28 704.96 L559.53 704.86 L559.79 704.75 L560.04 704.64 L560.3 704.51 L560.56 704.39 L560.81 704.27 L561.07 704.14 L561.33 704.03 L561.58 703.91 L561.84 703.79 L562.09 703.67 L562.35 703.54 L562.61 703.41 L562.86 703.26 L563.12 703.11 L563.38 702.95 L563.63 702.78 L563.89 702.6 L564.14 702.4 L564.4 702.19 L564.66 701.96 L564.91 701.72 L565.17 701.46 L565.42 701.19 L565.68 700.89 L565.94 700.59 L566.19 700.25 L566.45 699.83 L566.71 699.28 L566.96 698.57 L567.22 697.63 L567.48 696.1 L567.73 692.51 L567.99 679.3 L568.24 602.29 L568.5 524.95 L568.5 768.89 L568.96 765.67 L569.41 762.83 L569.87 761.01 L570.33 759.99 L570.78 759.16 L571.24 758.46 L571.7 757.87 L572.15 757.39 L572.61 757.04 L573.07 756.81 L573.52 756.67 L573.98 756.56 L574.44 756.47 L574.89 756.4 L575.35 756.33 L575.81 756.28 L576.26 756.24 L576.72 756.22 L577.18 756.2 L577.63 756.23 L578.09 756.32 L578.55 756.48 L579 756.72 L579.46 757.01 L579.92 757.36 L580.37 757.75 L580.83 758.16 L581.29 758.61 L581.74 759.18 L582.2 759.89 L582.66 760.72 L583.11 761.67 L583.57 762.73 L584.03 763.94 L584.48 765.68 L584.94 767.48 L585.4 768.76 L585.85 769.9 L586.31 771.08 L586.77 772.11 L587.22 772.74 L587.68 773.08 L588.14 773.36 L588.59 773.52 L589.05 773.49 L589.51 773.41 L589.96 773.31 L590.42 773.19 L590.88 773.06 L591.33 772.92 L591.79 772.78 L592.25 772.64 L592.7 772.49 L593.16 772.33 L593.62 772.18 L594.07 772.03 L594.53 771.89 L594.99 771.75 L595.44 771.63 L595.9 771.5 L595.9 696.27 L596.16 695.5 L596.42 694.81 L596.69 694.32 L596.95 694.13 L597.21 694.22 L597.48 694.48 L597.74 694.88 L598 695.39 L598.26 696 L598.52 696.67 L598.79 697.39 L599.05 698.12 L599.31 698.85 L599.57 699.55 L599.84 700.19 L600.1 700.75 L600.36 701.21 L600.62 701.55 L600.89 701.87 L601.15 702.19 L601.41 702.51 L601.67 702.81 L601.94 703.11 L602.2 703.39 L602.46 703.65 L602.72 703.89 L602.99 704.1 L603.25 704.29 L603.51 704.43 L603.78 704.55 L604.04 704.61 L604.3 704.64 L604.56 704.64 L604.82 704.63 L605.09 704.61 L605.35 704.59 L605.61 704.57 L605.88 704.53 L606.14 704.5 L606.4 704.46 L606.66 704.42 L606.92 704.37 L607.19 704.32 L607.45 704.26 L607.71 704.2 L607.98 704.14 L608.24 704.08 L608.5 704.01 L608.76 703.95 L609.02 703.88 L609.29 703.81 L609.55 703.74 L609.81 703.66 L610.07 703.57 L610.34 703.48 L610.6 703.37 L610.86 703.26 L611.12 703.13 L611.39 702.99 L611.65 702.84 L611.91 702.68 L612.17 702.51 L612.44 702.32 L612.7 702.12 L612.96 701.9 L613.22 701.67 L613.49 701.43 L613.75 701.17 L614.01 700.9 L614.28 700.6 L614.54 700.27 L614.8 699.86 L615.06 699.31 L615.32 698.6 L615.59 697.66 L615.85 696.05 L616.11 692.43 L616.38 678.09 L616.64 594.46 L616.9 524.95 L616.9 770.23 L617.35 766.62 L617.79 763.47 L618.24 761.52 L618.69 760.5 L619.13 759.61 L619.58 758.87 L620.03 758.26 L620.47 757.78 L620.92 757.43 L621.37 757.2 L621.81 757.07 L622.26 756.95 L622.71 756.84 L623.15 756.74 L623.6 756.66 L624.05 756.6 L624.49 756.55 L624.94 756.52 L625.39 756.51 L625.83 756.54 L626.28 756.65 L626.73 756.84 L627.17 757.1 L627.62 757.41 L628.07 757.77 L628.51 758.17 L628.96 758.59 L629.41 759.04 L629.85 759.64 L630.3 760.4 L630.75 761.3 L631.19 762.34 L631.64 763.48 L632.09 764.78 L632.53 766.72 L632.98 768.69 L633.43 770 L633.87 771.08 L634.32 772.01 L634.77 772.63 L635.21 772.8 L635.66 772.79 L636.11 772.75 L636.55 772.7 L637 772.64 L637.45 772.56 L637.89 772.47 L638.34 772.38 L638.79 772.29 L639.23 772.19 L639.68 772.1 L640.13 772 L640.57 771.89 L641.02 771.77 L641.47 771.65 L641.91 771.51 L642.36 771.36 L642.81 771.21 L643.25 771.06 L643.7 770.89 L643.7 696.27 L643.96 695.5 L644.22 694.81 L644.49 694.32 L644.75 694.13 L645.01 694.22 L645.28 694.48 L645.54 694.88 L645.8 695.39 L646.06 696 L646.33 696.67 L646.59 697.39 L646.85 698.12 L647.11 698.85 L647.38 699.55 L647.64 700.19 L647.9 700.75 L648.16 701.21 L648.43 701.55 L648.69 701.87 L648.95 702.19 L649.21 702.51 L649.48 702.81 L649.74 703.11 L650 703.39 L650.26 703.65 L650.53 703.89 L650.79 704.1 L651.05 704.29 L651.31 704.43 L651.58 704.55 L651.84 704.61 L652.1 704.64 L652.36 704.64 L652.62 704.63 L652.89 704.61 L653.15 704.59 L653.41 704.57 L653.68 704.53 L653.94 704.5 L654.2 704.46 L654.46 704.42 L654.72 704.37 L654.99 704.32 L655.25 704.26 L655.51 704.2 L655.78 704.14 L656.04 704.08 L656.3 704.01 L656.56 703.95 L656.82 703.88 L657.09 703.81 L657.35 703.74 L657.61 703.66 L657.88 703.57 L658.14 703.48" fill="none" stroke="#0a56da" stroke-width="2.5" stroke-linejoin="round" clip-path="url(#ca2)"/>
<text x="105.5" y="605.86" font-size="23.5" text-anchor="end" font-family='"Liberation Sans", Arial, sans-serif'>0.4</text>
<text x="105.5" y="672.79" font-size="23.5" text-anchor="end" font-family='"Liberation Sans", Arial, sans-serif'>0.2</text>
<text x="105.5" y="739.71" font-size="23.5" text-anchor="end" font-family='"Liberation Sans", Arial, sans-serif'>0.0</text>
<text x="105.5" y="806.64" font-size="23.5" text-anchor="end" font-family='"Liberation Sans", Arial, sans-serif'>-0.2</text>
<rect x="605.9" y="792" width="41.4" height="38.2" rx="2" fill="#fff" stroke="#333" stroke-width="1.6"/>
<text x="626.1" y="820.6" font-size="27.9" text-anchor="middle" font-family='"Liberation Sans", Arial, sans-serif'>Ag</text>
<text x="117" y="862.3" font-size="24" text-anchor="middle" font-family='"Liberation Sans", Arial, sans-serif'>0</text>
<text x="386.95" y="862.3" font-size="24" text-anchor="middle" font-family='"Liberation Sans", Arial, sans-serif'>10</text>
<text x="656.9" y="862.3" font-size="24" text-anchor="middle" font-family='"Liberation Sans", Arial, sans-serif'>20</text>
<text x="387" y="904.8" font-size="28" text-anchor="middle" font-family='"Liberation Sans", Arial, sans-serif'>Time (h)</text>
<text transform="translate(52.5 400.5) rotate(-90)" font-size="28" text-anchor="middle" font-family='"Liberation Sans", Arial, sans-serif'>Cell Voltage (V)</text>
<text x="719.8" y="44.6" font-size="61" font-family='"Liberation Sans", Arial, sans-serif'>b</text>
<text transform="translate(757.6 44.6) scale(0.88 1)" font-size="61" font-family='"Liberation Sans", Arial, sans-serif'>)</text>
<path d="M870.4 136.14h14 M870.4 236.18h14 M870.4 336.22h14 M870.4 436.26h14 M870.4 536.3h14 M870.4 636.34h14 M870.4 736.38h14 M1180.37 786.4v-14 M1490.33 786.4v-14 M1025.38 786.4v-7 M1335.35 786.4v-7 M1645.32 786.4v-7" stroke="#000" stroke-width="2.6" fill="none"/>
<rect x="870.4" y="36.1" width="929.9" height="750.3" fill="none" stroke="#000" stroke-width="2.7"/>
<g fill="none" stroke-width="3.3" stroke-linejoin="round" clip-path="url(#cb)">
<path d="M872.98 -614.16 L875.56 745.38 L878.15 712.87 L880.73 697.59 L883.32 687.85 L885.9 680.85 L888.48 675.78 L891.06 671.8 L893.65 668.35 L896.23 665.26 L898.81 662.51 L901.4 660 L903.98 657.64 L906.56 655.53 L909.15 653.75 L911.73 652.14 L914.31 650.55 L916.89 648.98 L919.48 647.46 L922.06 645.99 L924.64 644.49 L927.23 642.98 L929.81 641.63 L932.39 640.55 L934.98 639.74 L937.56 639.06 L940.14 638.44 L942.73 637.82 L945.31 637.13 L947.89 636.34 L950.47 635.32 L953.06 634.09 L955.64 632.78 L958.22 631.51 L960.81 630.37 L963.39 629.44 L965.97 628.67 L968.56 627.97 L971.14 627.32 L973.72 626.72 L976.31 626.16 L978.89 625.64 L981.47 625.14 L984.05 624.66 L986.64 624.21 L989.22 623.76 L991.8 623.34 L994.39 622.91 L996.97 622.5 L999.55 622.09 L1002.14 621.68 L1004.72 621.27 L1007.3 620.86 L1009.88 620.46 L1012.47 620.07 L1015.05 619.69 L1017.63 619.32 L1020.22 618.96 L1022.8 618.61 L1025.38 618.26 L1027.97 617.92 L1030.55 617.59 L1033.13 617.26 L1035.72 616.94 L1038.3 616.63 L1040.88 616.32 L1043.46 616.01 L1046.05 615.71 L1048.63 615.41 L1051.21 615.12 L1053.8 614.83 L1056.38 614.54 L1058.96 614.26 L1061.55 613.98 L1064.13 613.71 L1066.71 613.43 L1069.3 613.16 L1071.88 612.89 L1074.46 612.63 L1077.04 612.37 L1079.63 612.11 L1082.21 611.85 L1084.79 611.59 L1087.38 611.33 L1089.96 611.08 L1092.54 610.83 L1095.13 610.58 L1097.71 610.33 L1100.29 610.08 L1102.88 609.83 L1105.46 609.57 L1108.04 609.32 L1110.62 609.07 L1113.21 608.81 L1115.79 608.56 L1118.37 608.31 L1120.96 608.06 L1123.54 607.81 L1126.12 607.57 L1128.71 607.32 L1131.29 607.08 L1133.87 606.84 L1136.45 606.6 L1139.04 606.36 L1141.62 606.13 L1144.2 605.9 L1146.79 605.68 L1149.37 605.45 L1151.95 605.23 L1154.54 605.02 L1157.12 604.8 L1159.7 604.59 L1162.29 604.39 L1164.87 604.19 L1167.45 603.99 L1170.03 603.8 L1172.62 603.61 L1175.2 603.42 L1177.78 603.24 L1180.37 603.06 L1182.95 602.89 L1185.53 602.72 L1188.12 602.55 L1190.7 602.39 L1193.28 602.24 L1195.87 602.09 L1198.45 601.94 L1201.03 601.8 L1203.61 601.66 L1206.2 601.52 L1208.78 601.39 L1211.36 601.26 L1213.95 601.14 L1216.53 601.01 L1219.11 600.89 L1221.7 600.77 L1224.28 600.65 L1226.86 600.53 L1229.44 600.42 L1232.03 600.31 L1234.61 600.2 L1237.19 600.09 L1239.78 599.98 L1242.36 599.87 L1244.94 599.77 L1247.53 599.67 L1250.11 599.57 L1252.69 599.47 L1255.28 599.37 L1257.86 599.27 L1260.44 599.18 L1263.02 599.08 L1265.61 598.99 L1268.19 598.9 L1270.77 598.81 L1273.36 598.72 L1275.94 598.63 L1278.52 598.54 L1281.11 598.46 L1283.69 598.37 L1286.27 598.29 L1288.86 598.2 L1291.44 598.12 L1294.02 598.04 L1296.6 597.96 L1299.19 597.88 L1301.77 597.8 L1304.35 597.72 L1306.94 597.64 L1309.52 597.57 L1312.1 597.49 L1314.69 597.41 L1317.27 597.34 L1319.85 597.26 L1322.43 597.19 L1325.02 597.12 L1327.6 597.05 L1330.18 596.97 L1332.77 596.9 L1335.35 596.83 L1337.93 596.76 L1340.52 596.69 L1343.1 596.62 L1345.68 596.55 L1348.27 596.49 L1350.85 596.42 L1353.43 596.35 L1356.01 596.28 L1358.6 596.22 L1361.18 596.15 L1363.76 596.09 L1366.35 596.02 L1368.93 595.96 L1371.51 595.89 L1374.1 595.83 L1376.68 595.76 L1379.26 595.7 L1381.85 595.63 L1384.43 595.57 L1387.01 595.51 L1389.59 595.45 L1392.18 595.38 L1394.76 595.32 L1397.34 595.26 L1399.93 595.2 L1402.51 595.13 L1405.09 595.07 L1407.68 595.01 L1410.26 594.95 L1412.84 594.89 L1415.42 594.83 L1418.01 594.77 L1420.59 594.7 L1423.17 594.64 L1425.76 594.58 L1428.34 594.52 L1430.92 594.46 L1433.51 594.4 L1436.09 594.34 L1438.67 594.28 L1441.26 594.22 L1443.84 594.16 L1446.42 594.1 L1449 594.04 L1451.59 593.98 L1454.17 593.92 L1456.75 593.86 L1459.34 593.8 L1461.92 593.74 L1464.5 593.69 L1467.09 593.63 L1469.67 593.57 L1472.25 593.51 L1474.84 593.46 L1477.42 593.4 L1480 593.35 L1482.58 593.29 L1485.17 593.24 L1487.75 593.18 L1490.33 593.13 L1492.92 593.07 L1495.5 593.02 L1498.08 592.97 L1500.67 592.92 L1503.25 592.87 L1505.83 592.82 L1508.41 592.77 L1511 592.72 L1513.58 592.67 L1516.16 592.62 L1518.75 592.57 L1521.33 592.52 L1523.91 592.48 L1526.5 592.43 L1529.08 592.38 L1531.66 592.34 L1534.25 592.29 L1536.83 592.25 L1539.41 592.21 L1541.99 592.16 L1544.58 592.12 L1547.16 592.08 L1549.74 592.04 L1552.33 592 L1554.91 591.96 L1557.49 591.92 L1560.08 591.88 L1562.66 591.84 L1565.24 591.81 L1567.82 591.77 L1570.41 591.73 L1572.99 591.7 L1575.57 591.67 L1578.16 591.63 L1580.74 591.6 L1583.32 591.57 L1585.91 591.53 L1588.49 591.5 L1591.07 591.47 L1593.66 591.44 L1596.24 591.41 L1598.82 591.39 L1601.4 591.36 L1603.99 591.33 L1606.57 591.31 L1609.15 591.28 L1611.74 591.26 L1614.32 591.23 L1616.9 591.21 L1619.49 591.19 L1622.07 591.16 L1624.65 591.14 L1627.24 591.12 L1629.82 591.1 L1632.4 591.08 L1634.98 591.06 L1637.57 591.04 L1640.15 591.02 L1642.73 591 L1645.32 590.99 L1647.9 590.97 L1650.48 590.95 L1653.07 590.93 L1655.65 590.92 L1658.23 590.9 L1660.82 590.88 L1663.4 590.87 L1665.98 590.85 L1668.56 590.84 L1671.15 590.82 L1673.73 590.8 L1676.31 590.79 L1678.9 590.77 L1681.48 590.76 L1684.06 590.74 L1686.65 590.73 L1689.23 590.71 L1691.81 590.7 L1694.39 590.68 L1696.98 590.67 L1699.56 590.65 L1702.14 590.64 L1704.73 590.63 L1707.31 590.61 L1709.89 590.6 L1712.48 590.58 L1715.06 590.57 L1717.64 590.55 L1720.23 590.53 L1722.81 590.52 L1725.39 590.5 L1727.97 590.49 L1730.56 590.47 L1733.14 590.46 L1735.72 590.44 L1738.31 590.42 L1740.89 590.41 L1743.47 590.39 L1746.06 590.37 L1748.64 590.36 L1751.22 590.34 L1753.8 590.32 L1756.39 590.3 L1758.97 590.28 L1761.55 590.26 L1764.14 590.25 L1766.72 590.23 L1769.3 590.21 L1771.89 590.19 L1774.47 590.17 L1777.05 590.15 L1779.64 590.13 L1782.22 590.1 L1784.8 590.08 L1787.38 590.06 L1789.97 590.03 L1792.55 590 L1795.13 589.98 L1797.72 589.95 L1800.3 589.92" stroke="#3a3a3a"/>
<path d="M872.98 -352.06 L875.57 279.2 L878.15 260.19 L880.73 252.69 L883.31 251.19 L885.9 255.19 L888.48 262.69 L891.06 276.2 L893.65 298.7 L896.23 353.23 L898.81 425.76 L901.4 637.84 L903.98 650.35 L906.56 650.35 L909.15 647.34 L911.73 644.89 L914.31 642.92 L916.89 641.33 L919.48 639.9 L922.06 638.49 L924.64 637.02 L927.23 635.58 L929.81 634.22 L932.39 632.98 L934.98 631.85 L937.56 630.78 L940.14 629.78 L942.73 628.83 L945.31 627.94 L947.89 627.09 L950.47 626.28 L953.06 625.51 L955.64 624.78 L958.22 624.09 L960.81 623.42 L963.39 622.77 L965.97 622.15 L968.56 621.55 L971.14 620.96 L973.72 620.39 L976.31 619.83 L978.89 619.28 L981.47 618.75 L984.05 618.22 L986.64 617.7 L989.22 617.18 L991.8 616.67 L994.39 616.16 L996.97 615.65 L999.55 615.16 L1002.14 614.7 L1004.72 614.26 L1007.3 613.86 L1009.88 613.47 L1012.47 613.1 L1015.05 612.73 L1017.63 612.38 L1020.22 612.04 L1022.8 611.71 L1025.38 611.39 L1027.97 611.08 L1030.55 610.77 L1033.13 610.48 L1035.72 610.19 L1038.3 609.9 L1040.88 609.63 L1043.46 609.36 L1046.05 609.1 L1048.63 608.84 L1051.21 608.58 L1053.8 608.34 L1056.38 608.09 L1058.96 607.85 L1061.55 607.62 L1064.13 607.38 L1066.71 607.16 L1069.3 606.93 L1071.88 606.71 L1074.46 606.49 L1077.04 606.27 L1079.63 606.06 L1082.21 605.85 L1084.79 605.64 L1087.38 605.43 L1089.96 605.23 L1092.54 605.03 L1095.13 604.83 L1097.71 604.63 L1100.29 604.43 L1102.88 604.24 L1105.46 604.05 L1108.04 603.85 L1110.62 603.67 L1113.21 603.48 L1115.79 603.3 L1118.37 603.11 L1120.96 602.93 L1123.54 602.76 L1126.12 602.58 L1128.71 602.41 L1131.29 602.24 L1133.87 602.07 L1136.45 601.9 L1139.04 601.74 L1141.62 601.57 L1144.2 601.41 L1146.79 601.25 L1149.37 601.1 L1151.95 600.94 L1154.54 600.79 L1157.12 600.64 L1159.7 600.49 L1162.29 600.35 L1164.87 600.21 L1167.45 600.06 L1170.03 599.92 L1172.62 599.79 L1175.2 599.65 L1177.78 599.52 L1180.37 599.39 L1182.95 599.26 L1185.53 599.13 L1188.12 599 L1190.7 598.88 L1193.28 598.76 L1195.87 598.64 L1198.45 598.52 L1201.03 598.41 L1203.61 598.29 L1206.2 598.18 L1208.78 598.07 L1211.36 597.96 L1213.95 597.85 L1216.53 597.75 L1219.11 597.64 L1221.7 597.54 L1224.28 597.44 L1226.86 597.33 L1229.44 597.23 L1232.03 597.14 L1234.61 597.04 L1237.19 596.94 L1239.78 596.85 L1242.36 596.75 L1244.94 596.66 L1247.53 596.57 L1250.11 596.48 L1252.69 596.39 L1255.28 596.3 L1257.86 596.21 L1260.44 596.12 L1263.02 596.03 L1265.61 595.95 L1268.19 595.86 L1270.77 595.78 L1273.36 595.7 L1275.94 595.62 L1278.52 595.53 L1281.11 595.45 L1283.69 595.37 L1286.27 595.29 L1288.86 595.22 L1291.44 595.14 L1294.02 595.06 L1296.6 594.98 L1299.19 594.91 L1301.77 594.83 L1304.35 594.76 L1306.94 594.68 L1309.52 594.61 L1312.1 594.54 L1314.69 594.47 L1317.27 594.39 L1319.85 594.32 L1322.43 594.25 L1325.02 594.18 L1327.6 594.11 L1330.18 594.04 L1332.77 593.98 L1335.35 593.91 L1337.93 593.84 L1340.52 593.77 L1343.1 593.71 L1345.68 593.64 L1348.27 593.57 L1350.85 593.51 L1353.43 593.44 L1356.01 593.38 L1358.6 593.32 L1361.18 593.25 L1363.76 593.19 L1366.35 593.13 L1368.93 593.06 L1371.51 593 L1374.1 592.94 L1376.68 592.88 L1379.26 592.82 L1381.85 592.76 L1384.43 592.69 L1387.01 592.63 L1389.59 592.57 L1392.18 592.52 L1394.76 592.46 L1397.34 592.4 L1399.93 592.34 L1402.51 592.28 L1405.09 592.22 L1407.68 592.16 L1410.26 592.11 L1412.84 592.05 L1415.42 591.99 L1418.01 591.94 L1420.59 591.88 L1423.17 591.83 L1425.76 591.77 L1428.34 591.72 L1430.92 591.66 L1433.51 591.61 L1436.09 591.56 L1438.67 591.5 L1441.26 591.45 L1443.84 591.4 L1446.42 591.35 L1449 591.29 L1451.59 591.24 L1454.17 591.19 L1456.75 591.14 L1459.34 591.09 L1461.92 591.04 L1464.5 590.99 L1467.09 590.94 L1469.67 590.89 L1472.25 590.84 L1474.84 590.79 L1477.42 590.74 L1480 590.7 L1482.58 590.65 L1485.17 590.6 L1487.75 590.55 L1490.33 590.51 L1492.92 590.46 L1495.5 590.41 L1498.08 590.37 L1500.67 590.32 L1503.25 590.27 L1505.83 590.23 L1508.41 590.18 L1511 590.14 L1513.58 590.09 L1516.16 590.05 L1518.75 590 L1521.33 589.96 L1523.91 589.91 L1526.5 589.87 L1529.08 589.83 L1531.66 589.78 L1534.25 589.74 L1536.83 589.7 L1539.41 589.65 L1541.99 589.61 L1544.58 589.57 L1547.16 589.53 L1549.74 589.48 L1552.33 589.44 L1554.91 589.4 L1557.49 589.36 L1560.08 589.32 L1562.66 589.28 L1565.24 589.23 L1567.82 589.19 L1570.41 589.15 L1572.99 589.11 L1575.57 589.07 L1578.16 589.03 L1580.74 588.99 L1583.32 588.95 L1585.91 588.91 L1588.49 588.87 L1591.07 588.83 L1593.66 588.79 L1596.24 588.75 L1598.82 588.71 L1601.4 588.68 L1603.99 588.64 L1606.57 588.6 L1609.15 588.56 L1611.74 588.52 L1614.32 588.48 L1616.9 588.45 L1619.49 588.41 L1622.07 588.37 L1624.65 588.33 L1627.24 588.3 L1629.82 588.26 L1632.4 588.22 L1634.98 588.19 L1637.57 588.15 L1640.15 588.11 L1642.73 588.08 L1645.32 588.04 L1647.9 588.01 L1650.48 587.97 L1653.07 587.94 L1655.65 587.9 L1658.23 587.87 L1660.82 587.83 L1663.4 587.8 L1665.98 587.76 L1668.56 587.73 L1671.15 587.69 L1673.73 587.66 L1676.31 587.63 L1678.9 587.59 L1681.48 587.56 L1684.06 587.52 L1686.65 587.49 L1689.23 587.46 L1691.81 587.42 L1694.39 587.39 L1696.98 587.36 L1699.56 587.32 L1702.14 587.29 L1704.73 587.26 L1707.31 587.23 L1709.89 587.19 L1712.48 587.16 L1715.06 587.13 L1717.64 587.09 L1720.23 587.06 L1722.81 587.03 L1725.39 587 L1727.97 586.97 L1730.56 586.93 L1733.14 586.9 L1735.72 586.87 L1738.31 586.84 L1740.89 586.8 L1743.47 586.77 L1746.06 586.74 L1748.64 586.71 L1751.22 586.68 L1753.8 586.64 L1756.39 586.61 L1758.97 586.58 L1761.55 586.55 L1764.14 586.52 L1766.72 586.49 L1769.3 586.45 L1771.89 586.42 L1774.47 586.39 L1777.05 586.36 L1779.64 586.33 L1782.22 586.29 L1784.8 586.26 L1787.38 586.23 L1789.97 586.2 L1792.55 586.17 L1795.13 586.13 L1797.72 586.1 L1800.3 586.07" stroke="#ee1c1c"/>
<path d="M872.98 -1014.32 L875.53 332.97 L878.15 369.23 L880.73 455.27 L883.31 508.79 L885.9 536.3 L888.48 552.89 L891.06 569.53 L893.65 583.88 L896.23 596.07 L898.81 606.25 L901.4 613.15 L903.98 618.79 L906.56 624.29 L909.15 628.25 L911.73 630.86 L914.31 632.6 L916.89 634.06 L919.48 635.13 L922.06 635.58 L924.64 635.59 L927.23 635.59 L929.81 635.59 L932.39 635.58 L934.98 635.42 L937.56 635.1 L940.14 634.7 L942.73 634.24 L945.31 633.78 L947.89 633.34 L950.47 632.89 L953.06 632.39 L955.64 631.85 L958.22 631.29 L960.81 630.7 L963.39 630.09 L965.97 629.48 L968.56 628.87 L971.14 628.25 L973.72 627.64 L976.31 627.04 L978.89 626.45 L981.47 625.87 L984.05 625.3 L986.64 624.75 L989.22 624.21 L991.8 623.7 L994.39 623.2 L996.97 622.72 L999.55 622.26 L1002.14 621.83 L1004.72 621.41 L1007.3 621.02 L1009.88 620.63 L1012.47 620.25 L1015.05 619.88 L1017.63 619.52 L1020.22 619.16 L1022.8 618.81 L1025.38 618.47 L1027.97 618.13 L1030.55 617.8 L1033.13 617.48 L1035.72 617.16 L1038.3 616.85 L1040.88 616.54 L1043.46 616.24 L1046.05 615.94 L1048.63 615.65 L1051.21 615.37 L1053.8 615.08 L1056.38 614.81 L1058.96 614.53 L1061.55 614.26 L1064.13 614 L1066.71 613.73 L1069.3 613.48 L1071.88 613.22 L1074.46 612.97 L1077.04 612.72 L1079.63 612.48 L1082.21 612.24 L1084.79 612 L1087.38 611.77 L1089.96 611.53 L1092.54 611.31 L1095.13 611.08 L1097.71 610.86 L1100.29 610.64 L1102.88 610.42 L1105.46 610.2 L1108.04 609.98 L1110.62 609.77 L1113.21 609.56 L1115.79 609.36 L1118.37 609.15 L1120.96 608.95 L1123.54 608.75 L1126.12 608.55 L1128.71 608.35 L1131.29 608.16 L1133.87 607.96 L1136.45 607.77 L1139.04 607.59 L1141.62 607.4 L1144.2 607.22 L1146.79 607.04 L1149.37 606.86 L1151.95 606.68 L1154.54 606.5 L1157.12 606.33 L1159.7 606.16 L1162.29 605.99 L1164.87 605.83 L1167.45 605.66 L1170.03 605.5 L1172.62 605.34 L1175.2 605.18 L1177.78 605.02 L1180.37 604.87 L1182.95 604.71 L1185.53 604.56 L1188.12 604.41 L1190.7 604.27 L1193.28 604.12 L1195.87 603.98 L1198.45 603.84 L1201.03 603.7 L1203.61 603.56 L1206.2 603.42 L1208.78 603.29 L1211.36 603.15 L1213.95 603.02 L1216.53 602.89 L1219.11 602.76 L1221.7 602.63 L1224.28 602.51 L1226.86 602.38 L1229.44 602.26 L1232.03 602.14 L1234.61 602.01 L1237.19 601.89 L1239.78 601.78 L1242.36 601.66 L1244.94 601.54 L1247.53 601.42 L1250.11 601.31 L1252.69 601.2 L1255.28 601.08 L1257.86 600.97 L1260.44 600.86 L1263.02 600.75 L1265.61 600.64 L1268.19 600.53 L1270.77 600.43 L1273.36 600.32 L1275.94 600.22 L1278.52 600.11 L1281.11 600.01 L1283.69 599.91 L1286.27 599.8 L1288.86 599.7 L1291.44 599.6 L1294.02 599.5 L1296.6 599.4 L1299.19 599.31 L1301.77 599.21 L1304.35 599.11 L1306.94 599.02 L1309.52 598.92 L1312.1 598.83 L1314.69 598.74 L1317.27 598.64 L1319.85 598.55 L1322.43 598.46 L1325.02 598.37 L1327.6 598.28 L1330.18 598.19 L1332.77 598.1 L1335.35 598.01 L1337.93 597.92 L1340.52 597.84 L1343.1 597.75 L1345.68 597.66 L1348.27 597.58 L1350.85 597.49 L1353.43 597.41 L1356.01 597.32 L1358.6 597.24 L1361.18 597.16 L1363.76 597.08 L1366.35 596.99 L1368.93 596.91 L1371.51 596.83 L1374.1 596.75 L1376.68 596.67 L1379.26 596.59 L1381.85 596.51 L1384.43 596.44 L1387.01 596.36 L1389.59 596.28 L1392.18 596.2 L1394.76 596.13 L1397.34 596.05 L1399.93 595.97 L1402.51 595.9 L1405.09 595.82 L1407.68 595.75 L1410.26 595.67 L1412.84 595.6 L1415.42 595.53 L1418.01 595.45 L1420.59 595.38 L1423.17 595.31 L1425.76 595.24 L1428.34 595.16 L1430.92 595.09 L1433.51 595.02 L1436.09 594.95 L1438.67 594.88 L1441.26 594.81 L1443.84 594.74 L1446.42 594.67 L1449 594.6 L1451.59 594.53 L1454.17 594.47 L1456.75 594.4 L1459.34 594.33 L1461.92 594.26 L1464.5 594.2 L1467.09 594.13 L1469.67 594.06 L1472.25 594 L1474.84 593.93 L1477.42 593.87 L1480 593.8 L1482.58 593.74 L1485.17 593.68 L1487.75 593.61 L1490.33 593.55 L1492.92 593.49 L1495.5 593.42 L1498.08 593.36 L1500.67 593.3 L1503.25 593.24 L1505.83 593.18 L1508.41 593.12 L1511 593.06 L1513.58 593 L1516.16 592.94 L1518.75 592.88 L1521.33 592.82 L1523.91 592.76 L1526.5 592.71 L1529.08 592.65 L1531.66 592.59 L1534.25 592.53 L1536.83 592.48 L1539.41 592.42 L1541.99 592.37 L1544.58 592.31 L1547.16 592.26 L1549.74 592.2 L1552.33 592.15 L1554.91 592.09 L1557.49 592.04 L1560.08 591.99 L1562.66 591.93 L1565.24 591.88 L1567.82 591.83 L1570.41 591.78 L1572.99 591.73 L1575.57 591.68 L1578.16 591.63 L1580.74 591.58 L1583.32 591.53 L1585.91 591.48 L1588.49 591.43 L1591.07 591.38 L1593.66 591.33 L1596.24 591.28 L1598.82 591.23 L1601.4 591.19 L1603.99 591.14 L1606.57 591.09 L1609.15 591.05 L1611.74 591 L1614.32 590.96 L1616.9 590.92 L1619.49 590.87 L1622.07 590.83 L1624.65 590.79 L1627.24 590.75 L1629.82 590.71 L1632.4 590.67 L1634.98 590.63 L1637.57 590.59 L1640.15 590.56 L1642.73 590.52 L1645.32 590.48 L1647.9 590.45 L1650.48 590.41 L1653.07 590.37 L1655.65 590.34 L1658.23 590.3 L1660.82 590.27 L1663.4 590.23 L1665.98 590.2 L1668.56 590.16 L1671.15 590.13 L1673.73 590.09 L1676.31 590.06 L1678.9 590.03 L1681.48 589.99 L1684.06 589.96 L1686.65 589.92 L1689.23 589.89 L1691.81 589.85 L1694.39 589.82 L1696.98 589.79 L1699.56 589.75 L1702.14 589.72 L1704.73 589.68 L1707.31 589.65 L1709.89 589.61 L1712.48 589.58 L1715.06 589.54 L1717.64 589.5 L1720.23 589.47 L1722.81 589.43 L1725.39 589.4 L1727.97 589.36 L1730.56 589.32 L1733.14 589.28 L1735.72 589.25 L1738.31 589.21 L1740.89 589.17 L1743.47 589.13 L1746.06 589.09 L1748.64 589.05 L1751.22 589.01 L1753.8 588.97 L1756.39 588.93 L1758.97 588.88 L1761.55 588.84 L1764.14 588.8 L1766.72 588.76 L1769.3 588.71 L1771.89 588.67 L1774.47 588.62 L1777.05 588.58 L1779.64 588.53 L1782.22 588.48 L1784.8 588.43 L1787.38 588.37 L1789.97 588.31 L1792.55 588.25 L1795.13 588.19 L1797.72 588.13 L1800.3 588.07" stroke="#0a56da"/>
</g>
<text x="855" y="46.1" font-size="32.6" text-anchor="end" font-family='"Liberation Sans", Arial, sans-serif'>1.0</text>
<text x="855" y="146.14" font-size="32.6" text-anchor="end" font-family='"Liberation Sans", Arial, sans-serif'>0.8</text>
<text x="855" y="246.18" font-size="32.6" text-anchor="end" font-family='"Liberation Sans", Arial, sans-serif'>0.6</text>
<text x="855" y="346.22" font-size="32.6" text-anchor="end" font-family='"Liberation Sans", Arial, sans-serif'>0.4</text>
<text x="855" y="446.26" font-size="32.6" text-anchor="end" font-family='"Liberation Sans", Arial, sans-serif'>0.2</text>
<text x="855" y="546.3" font-size="32.6" text-anchor="end" font-family='"Liberation Sans", Arial, sans-serif'>0.0</text>
<text x="855" y="646.34" font-size="32.6" text-anchor="end" font-family='"Liberation Sans", Arial, sans-serif'>-0.2</text>
<text x="855" y="746.38" font-size="32.6" text-anchor="end" font-family='"Liberation Sans", Arial, sans-serif'>-0.4</text>
<text x="870.4" y="827.3" font-size="32.6" text-anchor="middle" font-family='"Liberation Sans", Arial, sans-serif'>0</text>
<text x="1180.37" y="827.3" font-size="32.6" text-anchor="middle" font-family='"Liberation Sans", Arial, sans-serif'>20</text>
<text x="1490.33" y="827.3" font-size="32.6" text-anchor="middle" font-family='"Liberation Sans", Arial, sans-serif'>40</text>
<text x="1800.3" y="827.3" font-size="32.6" text-anchor="middle" font-family='"Liberation Sans", Arial, sans-serif'>60</text>
<text x="1335.5" y="887.7" font-size="38.6" letter-spacing="0.45" text-anchor="middle" font-family='"Liberation Sans", Arial, sans-serif'>Time (min)</text>
<text transform="translate(761 392) rotate(-90)" font-size="38.8" letter-spacing="0.4" text-anchor="middle" font-family='"Liberation Sans", Arial, sans-serif'>Voltage (V)</text>
<rect x="1260.7" y="60.9" width="509.3" height="402.6" fill="#fff"/>
<path d="M1261 309 H1770" stroke="#000" stroke-width="3" stroke-dasharray="15.5 13.5" fill="none"/>
<g fill="none" stroke-width="3.2" stroke-linejoin="round" clip-path="url(#ci)">
<path d="M1277.68 -403.64 L1294.62 438.11 L1311.63 417.98 L1328.61 408.52 L1345.58 402.48 L1362.56 398.15 L1379.54 395.01 L1396.51 392.55 L1413.49 390.41 L1430.47 388.5 L1447.44 386.8 L1464.42 385.24 L1481.4 383.78 L1498.37 382.47 L1515.35 381.37 L1532.33 380.38 L1549.3 379.39 L1566.28 378.42 L1583.26 377.48 L1600.23 376.57 L1617.21 375.64 L1634.19 374.7 L1651.16 373.86 L1668.14 373.2 L1685.12 372.69 L1702.09 372.28 L1719.07 371.9 L1736.05 371.51 L1753.02 371.08 L1770 370.59 L1786.98 369.96" stroke="#3a3a3a"/>
<path d="M1277.68 -241.36 L1294.65 149.47 L1311.63 137.7 L1328.61 133.06 L1345.58 132.13 L1362.56 134.61 L1379.54 139.25 L1396.51 147.61 L1413.49 161.55 L1430.47 195.31 L1447.44 240.21 L1464.42 371.52 L1481.4 379.26 L1498.37 379.26 L1515.35 377.41 L1532.33 375.88 L1549.3 374.67 L1566.28 373.68 L1583.26 372.79 L1600.23 371.92 L1617.21 371.02 L1634.19 370.12 L1651.16 369.28 L1668.14 368.51 L1685.12 367.81 L1702.09 367.15 L1719.07 366.53 L1736.05 365.94 L1753.02 365.39 L1770 364.86 L1786.98 364.36" stroke="#ee1c1c"/>
<path d="M1277.68 -651.39 L1294.42 182.76 L1311.63 205.22 L1328.61 258.48 L1345.58 291.62 L1362.56 308.65 L1379.54 318.93 L1396.51 329.23 L1413.49 338.11 L1430.47 345.66 L1447.44 351.96 L1464.42 356.23 L1481.4 359.73 L1498.37 363.13 L1515.35 365.58 L1532.33 367.2 L1549.3 368.27 L1566.28 369.18 L1583.26 369.84 L1600.23 370.12 L1617.21 370.13 L1634.19 370.13 L1651.16 370.13 L1668.14 370.12 L1685.12 370.02 L1702.09 369.83 L1719.07 369.57 L1736.05 369.29 L1753.02 369.01 L1770 368.73 L1786.98 368.46" stroke="#0a56da"/>
</g>
<path d="M1260.7 184.78h6.5 M1260.7 308.65h6.5 M1260.7 432.53h6.5 M1260.7 122.84h3.5 M1260.7 246.72h3.5 M1260.7 370.59h3.5 M1362.56 463.5v-7 M1464.42 463.5v-7 M1566.28 463.5v-7 M1668.14 463.5v-7 M1311.63 463.5v-3.5 M1413.49 463.5v-3.5 M1515.35 463.5v-3.5 M1617.21 463.5v-3.5 M1719.07 463.5v-3.5" stroke="#222" stroke-width="2" fill="none"/>
<rect x="1260.7" y="60.9" width="509.3" height="402.6" fill="none" stroke="#222" stroke-width="2"/>
<text x="1252.3" y="70.4" font-size="32.6" text-anchor="end" font-family='"Liberation Sans", Arial, sans-serif'>0.8</text>
<text x="1252.3" y="194.28" font-size="32.6" text-anchor="end" font-family='"Liberation Sans", Arial, sans-serif'>0.4</text>
<text x="1252.3" y="318.15" font-size="32.6" text-anchor="end" font-family='"Liberation Sans", Arial, sans-serif'>0.0</text>
<text x="1252.3" y="442.03" font-size="32.6" text-anchor="end" font-family='"Liberation Sans", Arial, sans-serif'>-0.4</text>
<text x="1260.7" y="497" font-size="32.6" text-anchor="middle" font-family='"Liberation Sans", Arial, sans-serif'>0</text>
<text x="1362.56" y="497" font-size="32.6" text-anchor="middle" font-family='"Liberation Sans", Arial, sans-serif'>1</text>
<text x="1464.42" y="497" font-size="32.6" text-anchor="middle" font-family='"Liberation Sans", Arial, sans-serif'>2</text>
<text x="1566.28" y="497" font-size="32.6" text-anchor="middle" font-family='"Liberation Sans", Arial, sans-serif'>3</text>
<text x="1668.14" y="497" font-size="32.6" text-anchor="middle" font-family='"Liberation Sans", Arial, sans-serif'>4</text>
<text x="1770" y="497" font-size="32.6" text-anchor="middle" font-family='"Liberation Sans", Arial, sans-serif'>5</text>
<text x="1515.5" y="545.6" font-size="31.8" letter-spacing="0.42" text-anchor="middle" font-family='"Liberation Sans", Arial, sans-serif'>Time (min)</text>
<text transform="translate(1186.2 259.4) rotate(-90)" font-size="32.2" letter-spacing="0.35" text-anchor="middle" font-family='"Liberation Sans", Arial, sans-serif'>Votlage (V)</text>
<rect x="1625.3" y="609.1" width="160.2" height="149.6" fill="#fff" stroke="#444" stroke-width="1.4"/>
<path d="M1631.5 636.1 H1717.5" stroke="#3a3a3a" stroke-width="3" stroke-linecap="round"/>
<text x="1727.6" y="650.1" font-size="39.6" font-family='"Liberation Sans", Arial, sans-serif'>SS</text>
<path d="M1631.5 684.2 H1717.5" stroke="#ee1c1c" stroke-width="3" stroke-linecap="round"/>
<text x="1727.6" y="698.2" font-size="39.6" font-family='"Liberation Sans", Arial, sans-serif'>Sb</text>
<path d="M1631.5 732.2 H1717.5" stroke="#0a56da" stroke-width="3" stroke-linecap="round"/>
<text x="1727.6" y="746.2" font-size="39.6" font-family='"Liberation Sans", Arial, sans-serif'>Ag</text>
</svg>
</body></html>
